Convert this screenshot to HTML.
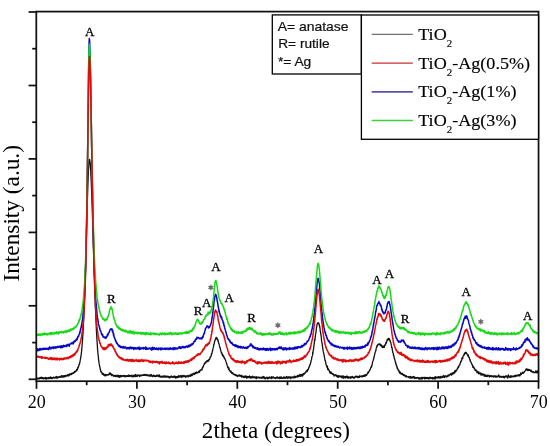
<!DOCTYPE html>
<html><head><meta charset="utf-8"><style>
html,body{margin:0;padding:0;background:#fff;}
svg{display:block;}
text{font-family:"Liberation Serif","Times New Roman",serif;}
.sans{font-family:"Liberation Sans",Arial,sans-serif;}
</style></head><body>
<svg width="550" height="446" viewBox="0 0 550 446">
<rect width="550" height="446" fill="#fff"/>
<polyline points="36.5,378.6 36.7,378.7 36.9,378.4 37.1,378.1 37.3,378.3 37.5,378.0 37.7,378.6 37.9,379.2 38.1,378.3 38.3,378.2 38.5,378.7 38.7,378.7 38.9,378.5 39.1,378.0 39.3,378.5 39.5,378.8 39.7,377.8 39.9,378.2 40.1,377.5 40.3,377.8 40.5,377.5 40.7,378.3 40.9,377.8 41.1,378.5 41.3,378.5 41.5,378.3 41.7,377.1 41.9,378.1 42.1,378.3 42.3,378.4 42.5,377.6 42.7,378.1 42.9,377.8 43.1,377.9 43.3,378.8 43.5,377.9 43.7,378.3 43.9,378.7 44.1,378.0 44.3,378.2 44.5,378.3 44.7,378.3 44.9,377.6 45.1,378.3 45.3,378.9 45.5,377.4 45.7,378.6 45.9,378.3 46.1,377.9 46.3,379.2 46.5,378.5 46.7,377.6 46.9,378.2 47.1,378.4 47.3,378.0 47.5,378.5 47.7,378.1 47.9,378.4 48.1,378.8 48.3,377.7 48.5,378.2 48.7,377.8 48.9,378.1 49.1,377.4 49.3,377.7 49.5,377.9 49.7,378.4 49.9,378.6 50.1,377.3 50.3,377.6 50.5,378.3 50.7,376.9 50.9,377.7 51.1,377.8 51.3,378.5 51.5,378.2 51.7,377.7 51.9,377.6 52.1,377.7 52.3,378.6 52.5,377.6 52.7,377.6 52.9,377.9 53.1,377.7 53.3,377.6 53.5,377.1 53.7,377.7 53.9,377.4 54.1,378.2 54.3,378.0 54.5,377.6 54.7,377.9 54.9,377.4 55.1,378.1 55.3,377.5 55.5,377.8 55.7,376.8 55.9,377.6 56.1,376.6 56.3,376.4 56.5,377.3 56.7,376.9 56.9,377.5 57.1,378.5 57.3,376.9 57.5,377.0 57.7,377.4 57.9,377.5 58.1,377.1 58.3,377.1 58.5,377.5 58.7,377.4 58.9,376.6 59.1,377.1 59.3,377.1 59.5,376.5 59.7,377.2 59.9,376.6 60.1,377.5 60.3,377.1 60.5,377.0 60.7,376.6 60.9,376.8 61.1,375.8 61.3,376.2 61.5,377.0 61.7,375.7 61.9,377.1 62.1,375.8 62.3,377.0 62.5,376.2 62.7,377.0 62.9,376.6 63.1,375.7 63.3,377.1 63.5,377.1 63.7,376.4 63.9,376.2 64.1,376.2 64.3,375.8 64.5,376.8 64.7,375.9 64.9,376.1 65.1,375.7 65.3,375.7 65.5,375.4 65.7,376.6 65.9,375.8 66.1,376.3 66.3,375.8 66.5,375.4 66.7,375.5 66.9,375.4 67.1,375.6 67.3,375.3 67.5,375.3 67.7,374.7 67.9,374.9 68.1,376.1 68.3,374.9 68.5,374.6 68.7,375.3 68.9,375.7 69.1,374.2 69.3,374.8 69.5,374.5 69.7,373.8 69.9,375.0 70.1,374.6 70.3,374.5 70.5,374.0 70.7,374.5 70.9,374.0 71.1,374.1 71.3,373.5 71.5,373.3 71.7,374.5 71.9,373.5 72.1,373.8 72.3,373.5 72.5,373.2 72.7,373.0 72.9,373.5 73.1,372.9 73.3,372.9 73.5,372.8 73.7,373.3 73.9,372.9 74.1,372.6 74.3,371.9 74.5,371.4 74.7,372.4 74.9,372.2 75.1,371.5 75.3,371.7 75.5,371.6 75.7,371.4 75.9,371.3 76.1,370.4 76.3,371.1 76.5,369.5 76.7,370.3 76.9,369.9 77.1,369.8 77.3,370.0 77.5,369.5 77.7,367.8 77.9,367.2 78.1,368.1 78.3,366.7 78.5,366.8 78.7,366.7 78.9,364.9 79.1,364.1 79.3,364.7 79.5,363.9 79.7,363.0 79.9,362.3 80.1,361.0 80.3,359.6 80.5,359.2 80.7,357.6 80.9,356.0 81.1,355.6 81.3,353.7 81.5,352.2 81.7,349.6 81.9,347.7 82.1,345.2 82.3,342.8 82.5,340.6 82.7,337.2 82.9,334.6 83.1,331.1 83.3,328.3 83.5,322.6 83.7,319.5 83.9,314.5 84.1,309.7 84.3,303.9 84.5,299.0 84.7,294.0 84.9,287.7 85.1,281.6 85.3,274.9 85.5,269.0 85.7,261.6 85.9,253.5 86.1,247.1 86.3,239.1 86.5,231.2 86.7,225.2 86.9,218.8 87.1,211.0 87.3,203.3 87.5,196.7 87.7,191.2 87.9,184.7 88.1,179.0 88.3,173.9 88.5,169.6 88.7,166.3 88.9,163.3 89.1,161.1 89.3,159.3 89.5,159.8 89.7,159.6 89.9,161.5 90.1,161.9 90.3,164.6 90.5,167.4 90.7,170.0 90.9,175.2 91.1,179.3 91.3,182.9 91.5,188.5 91.7,193.7 91.9,197.8 92.1,205.1 92.3,211.1 92.5,217.4 92.7,223.3 92.9,230.2 93.1,236.8 93.3,244.1 93.5,250.2 93.7,256.6 93.9,263.9 94.1,269.2 94.3,275.5 94.5,280.9 94.7,288.5 94.9,294.0 95.1,299.5 95.3,304.7 95.5,309.5 95.7,314.5 95.9,318.9 96.1,323.3 96.3,327.6 96.5,332.3 96.7,335.5 96.9,338.6 97.1,341.6 97.3,344.6 97.5,348.5 97.7,350.5 97.9,352.7 98.1,354.6 98.3,356.3 98.5,358.6 98.7,360.8 98.9,361.7 99.1,363.2 99.3,364.4 99.5,365.7 99.7,365.9 99.9,367.5 100.1,368.0 100.3,369.6 100.5,369.5 100.7,370.8 100.9,371.8 101.1,371.3 101.3,371.6 101.5,372.4 101.7,372.6 101.9,372.4 102.1,373.4 102.3,374.4 102.5,373.5 102.7,373.7 102.9,373.5 103.1,374.3 103.3,373.6 103.5,373.8 103.7,375.1 103.9,374.1 104.1,375.2 104.3,375.5 104.5,374.9 104.7,375.2 104.9,375.9 105.1,374.9 105.3,374.7 105.5,374.4 105.7,375.1 105.9,375.8 106.1,375.6 106.3,374.6 106.5,374.6 106.7,374.8 106.9,375.1 107.1,374.8 107.3,375.0 107.5,375.0 107.7,374.6 107.9,374.6 108.1,374.6 108.3,374.4 108.5,374.6 108.7,375.1 108.9,374.4 109.1,374.0 109.3,373.1 109.5,374.1 109.7,372.9 109.9,373.1 110.1,374.3 110.3,374.2 110.5,373.9 110.7,373.2 110.9,374.0 111.1,373.9 111.3,374.7 111.5,375.7 111.7,374.8 111.9,374.5 112.1,374.4 112.3,375.1 112.5,375.2 112.7,374.8 112.9,375.5 113.1,375.0 113.3,376.2 113.5,376.2 113.7,376.3 113.9,375.6 114.1,376.1 114.3,375.8 114.5,375.8 114.7,375.8 114.9,375.3 115.1,375.3 115.3,376.4 115.5,376.0 115.7,376.2 115.9,376.6 116.1,375.2 116.3,375.7 116.5,376.2 116.7,376.3 116.9,375.9 117.1,376.6 117.3,376.2 117.5,375.5 117.7,375.7 117.9,376.5 118.1,376.4 118.3,375.2 118.5,376.8 118.7,376.5 118.9,376.8 119.1,376.0 119.3,376.0 119.5,375.6 119.7,377.4 119.9,376.1 120.1,377.0 120.3,375.9 120.5,376.3 120.7,375.3 120.9,376.0 121.1,376.7 121.3,375.6 121.5,376.7 121.7,376.3 121.9,375.7 122.1,375.9 122.3,375.9 122.5,376.2 122.7,375.9 122.9,375.8 123.1,376.0 123.3,375.7 123.5,375.5 123.7,376.1 123.9,376.6 124.1,375.4 124.3,376.2 124.5,375.8 124.7,375.7 124.9,376.6 125.1,375.9 125.3,376.9 125.5,375.8 125.7,376.3 125.9,376.0 126.1,375.8 126.3,376.4 126.5,376.1 126.7,376.4 126.9,376.1 127.1,375.6 127.3,376.1 127.5,376.1 127.7,376.6 127.9,375.6 128.1,376.1 128.3,375.2 128.5,376.4 128.7,375.5 128.9,375.2 129.1,376.0 129.3,376.6 129.5,375.3 129.7,375.5 129.9,375.7 130.1,375.5 130.3,376.2 130.5,375.6 130.7,375.7 130.9,376.3 131.1,375.7 131.3,376.2 131.5,375.5 131.7,375.4 131.9,375.1 132.1,376.9 132.3,375.8 132.5,376.1 132.7,376.0 132.9,376.1 133.1,376.0 133.3,376.9 133.5,375.5 133.7,375.2 133.9,375.5 134.1,375.3 134.3,376.3 134.5,376.4 134.7,375.5 134.9,375.2 135.1,375.7 135.3,376.6 135.5,374.5 135.7,376.1 135.9,375.3 136.1,376.4 136.3,375.3 136.5,375.7 136.7,375.1 136.9,375.3 137.1,376.5 137.3,376.2 137.5,375.6 137.7,375.3 137.9,374.8 138.1,375.5 138.3,375.7 138.5,375.7 138.7,375.6 138.9,375.1 139.1,375.6 139.3,375.6 139.5,376.3 139.7,376.5 139.9,375.5 140.1,375.2 140.3,375.5 140.5,375.3 140.7,375.2 140.9,375.5 141.1,375.0 141.3,375.8 141.5,375.4 141.7,375.6 141.9,375.4 142.1,375.1 142.3,375.0 142.5,375.3 142.7,375.1 142.9,375.5 143.1,375.4 143.3,374.7 143.5,375.4 143.7,374.7 143.9,375.0 144.1,375.2 144.3,374.3 144.5,375.3 144.7,375.3 144.9,375.2 145.1,375.0 145.3,375.1 145.5,374.8 145.7,375.2 145.9,375.0 146.1,375.4 146.3,374.7 146.5,375.5 146.7,375.4 146.9,375.3 147.1,375.2 147.3,375.7 147.5,374.6 147.7,375.7 147.9,375.6 148.1,375.6 148.3,375.7 148.5,375.2 148.7,375.4 148.9,375.8 149.1,375.8 149.3,375.7 149.5,374.8 149.7,375.8 149.9,376.2 150.1,376.1 150.3,375.7 150.5,374.9 150.7,376.1 150.9,375.6 151.1,374.4 151.3,375.9 151.5,375.0 151.7,375.1 151.9,375.4 152.1,376.4 152.3,375.6 152.5,375.9 152.7,376.7 152.9,376.6 153.1,375.8 153.3,375.7 153.5,375.2 153.7,375.5 153.9,376.1 154.1,376.1 154.3,376.0 154.5,376.4 154.7,375.5 154.9,375.9 155.1,376.3 155.3,376.3 155.5,376.5 155.7,376.2 155.9,375.9 156.1,376.2 156.3,375.5 156.5,375.2 156.7,376.4 156.9,376.1 157.1,376.2 157.3,375.3 157.5,375.9 157.7,375.8 157.9,375.7 158.1,375.0 158.3,376.0 158.5,376.6 158.7,376.4 158.9,375.9 159.1,376.2 159.3,376.6 159.5,374.9 159.7,376.2 159.9,376.5 160.1,376.6 160.3,377.2 160.5,376.9 160.7,376.5 160.9,376.5 161.1,376.7 161.3,376.1 161.5,376.4 161.7,376.8 161.9,377.4 162.1,376.3 162.3,376.4 162.5,376.5 162.7,377.1 162.9,376.5 163.1,377.2 163.3,376.0 163.5,376.4 163.7,376.4 163.9,376.9 164.1,377.1 164.3,375.8 164.5,376.1 164.7,376.7 164.9,376.3 165.1,375.8 165.3,377.1 165.5,376.9 165.7,376.9 165.9,376.4 166.1,377.2 166.3,376.6 166.5,377.2 166.7,376.2 166.9,376.3 167.1,376.8 167.3,376.4 167.5,377.1 167.7,376.9 167.9,376.3 168.1,376.8 168.3,376.6 168.5,377.3 168.7,376.5 168.9,376.6 169.1,377.4 169.3,378.0 169.5,377.8 169.7,376.9 169.9,377.0 170.1,377.6 170.3,376.8 170.5,376.4 170.7,376.9 170.9,377.1 171.1,376.4 171.3,376.0 171.5,376.1 171.7,377.2 171.9,376.5 172.1,376.8 172.3,377.0 172.5,377.2 172.7,376.7 172.9,377.1 173.1,376.4 173.3,376.7 173.5,376.3 173.7,377.4 173.9,376.8 174.1,376.5 174.3,376.6 174.5,376.7 174.7,377.2 174.9,376.0 175.1,376.3 175.3,376.6 175.5,378.1 175.7,377.3 175.9,376.7 176.1,377.1 176.3,377.8 176.5,376.7 176.7,376.6 176.9,377.4 177.1,377.0 177.3,377.1 177.5,376.5 177.7,377.7 177.9,377.6 178.1,377.0 178.3,377.1 178.5,375.7 178.7,377.0 178.9,376.6 179.1,376.9 179.3,377.0 179.5,376.5 179.7,375.8 179.9,376.8 180.1,376.3 180.3,376.5 180.5,376.3 180.7,376.5 180.9,375.5 181.1,377.2 181.3,376.7 181.5,377.1 181.7,377.6 181.9,376.6 182.1,375.6 182.3,376.1 182.5,375.9 182.7,376.3 182.9,376.5 183.1,375.5 183.3,376.6 183.5,375.7 183.7,376.6 183.9,376.4 184.1,376.3 184.3,376.4 184.5,376.1 184.7,376.1 184.9,375.5 185.1,376.3 185.3,377.2 185.5,377.3 185.7,376.9 185.9,376.6 186.1,375.9 186.3,376.9 186.5,376.2 186.7,376.1 186.9,376.0 187.1,376.1 187.3,375.9 187.5,376.0 187.7,375.5 187.9,375.8 188.1,377.1 188.3,375.9 188.5,375.8 188.7,376.1 188.9,376.2 189.1,375.2 189.3,375.6 189.5,376.1 189.7,375.8 189.9,375.6 190.1,376.3 190.3,375.1 190.5,375.4 190.7,375.1 190.9,376.0 191.1,374.2 191.3,374.8 191.5,374.8 191.7,375.4 191.9,375.2 192.1,375.6 192.3,374.0 192.5,375.1 192.7,374.5 192.9,374.2 193.1,374.7 193.3,373.9 193.5,373.2 193.7,374.0 193.9,373.3 194.1,373.7 194.3,374.1 194.5,373.9 194.7,374.5 194.9,373.5 195.1,372.7 195.3,373.0 195.5,372.8 195.7,372.6 195.9,373.3 196.1,372.7 196.3,371.9 196.5,373.2 196.7,372.7 196.9,372.8 197.1,372.6 197.3,372.8 197.5,372.5 197.7,373.0 197.9,372.5 198.1,372.4 198.3,372.3 198.5,371.3 198.7,371.9 198.9,371.7 199.1,371.8 199.3,370.9 199.5,372.3 199.7,371.4 199.9,370.6 200.1,370.2 200.3,370.7 200.5,370.6 200.7,370.1 200.9,370.2 201.1,369.6 201.3,370.0 201.5,369.1 201.7,369.1 201.9,369.3 202.1,369.8 202.3,367.7 202.5,367.6 202.7,367.1 202.9,367.6 203.1,366.2 203.3,366.2 203.5,366.1 203.7,365.2 203.9,364.9 204.1,364.7 204.3,363.5 204.5,363.5 204.7,363.7 204.9,363.6 205.1,363.2 205.3,362.1 205.5,362.4 205.7,362.8 205.9,362.5 206.1,361.9 206.3,361.3 206.5,361.9 206.7,361.2 206.9,360.7 207.1,360.8 207.3,361.7 207.5,361.0 207.7,361.3 207.9,360.4 208.1,361.0 208.3,360.0 208.5,360.1 208.7,361.2 208.9,360.1 209.1,359.3 209.3,359.2 209.5,359.2 209.7,359.3 209.9,358.1 210.1,357.1 210.3,357.4 210.5,357.1 210.7,356.6 210.9,356.7 211.1,355.7 211.3,355.3 211.5,353.7 211.7,354.0 211.9,353.9 212.1,352.5 212.3,351.5 212.5,350.7 212.7,350.7 212.9,348.5 213.1,348.0 213.3,347.4 213.5,346.7 213.7,345.3 213.9,344.8 214.1,343.6 214.3,343.0 214.5,342.1 214.7,340.8 214.9,340.7 215.1,340.5 215.3,339.0 215.5,338.9 215.7,338.9 215.9,337.7 216.1,338.1 216.3,337.3 216.5,338.4 216.7,339.0 216.9,339.0 217.1,338.1 217.3,338.9 217.5,339.1 217.7,339.5 217.9,340.8 218.1,340.0 218.3,341.8 218.5,342.0 218.7,343.5 218.9,343.6 219.1,344.0 219.3,345.2 219.5,346.2 219.7,346.7 219.9,347.6 220.1,347.9 220.3,347.8 220.5,350.0 220.7,350.6 220.9,350.9 221.1,351.5 221.3,352.6 221.5,352.4 221.7,352.7 221.9,353.4 222.1,354.6 222.3,353.7 222.5,355.3 222.7,354.8 222.9,354.9 223.1,356.4 223.3,356.0 223.5,355.7 223.7,356.5 223.9,357.4 224.1,357.9 224.3,357.4 224.5,358.2 224.7,358.8 224.9,358.5 225.1,359.5 225.3,359.8 225.5,360.0 225.7,360.6 225.9,361.4 226.1,362.0 226.3,362.3 226.5,362.9 226.7,364.2 226.9,364.4 227.1,365.2 227.3,365.9 227.5,366.2 227.7,367.5 227.9,366.4 228.1,367.7 228.3,367.6 228.5,369.1 228.7,369.5 228.9,368.0 229.1,368.9 229.3,370.1 229.5,370.5 229.7,370.7 229.9,370.6 230.1,371.2 230.3,371.6 230.5,371.4 230.7,372.2 230.9,370.8 231.1,372.5 231.3,371.9 231.5,373.0 231.7,372.6 231.9,372.5 232.1,373.3 232.3,372.8 232.5,372.9 232.7,372.7 232.9,373.6 233.1,374.0 233.3,374.4 233.5,373.9 233.7,374.6 233.9,374.2 234.1,374.3 234.3,374.7 234.5,375.0 234.7,374.4 234.9,374.6 235.1,374.7 235.3,374.9 235.5,374.5 235.7,375.5 235.9,374.9 236.1,375.4 236.3,374.8 236.5,375.4 236.7,375.5 236.9,375.2 237.1,376.4 237.3,375.7 237.5,376.4 237.7,376.1 237.9,375.3 238.1,375.5 238.3,376.0 238.5,375.8 238.7,375.9 238.9,375.7 239.1,375.0 239.3,375.8 239.5,374.9 239.7,376.2 239.9,375.7 240.1,375.8 240.3,376.0 240.5,376.3 240.7,375.5 240.9,375.4 241.1,375.8 241.3,375.3 241.5,375.9 241.7,377.2 241.9,375.9 242.1,376.8 242.3,375.8 242.5,376.6 242.7,376.4 242.9,376.5 243.1,376.9 243.3,377.5 243.5,376.7 243.7,376.7 243.9,376.2 244.1,377.0 244.3,376.6 244.5,377.2 244.7,376.7 244.9,377.6 245.1,375.8 245.3,376.7 245.5,377.3 245.7,376.7 245.9,376.5 246.1,376.8 246.3,376.2 246.5,377.0 246.7,378.2 246.9,377.5 247.1,376.4 247.3,376.6 247.5,376.8 247.7,377.5 247.9,376.6 248.1,376.7 248.3,377.5 248.5,377.5 248.7,376.9 248.9,376.6 249.1,376.4 249.3,376.8 249.5,376.0 249.7,377.5 249.9,376.9 250.1,377.4 250.3,378.1 250.5,377.8 250.7,376.7 250.9,377.7 251.1,377.8 251.3,376.9 251.5,376.8 251.7,377.2 251.9,376.5 252.1,378.0 252.3,376.1 252.5,376.8 252.7,377.2 252.9,377.2 253.1,377.4 253.3,377.5 253.5,377.3 253.7,377.9 253.9,376.3 254.1,377.4 254.3,377.0 254.5,377.5 254.7,377.5 254.9,377.0 255.1,377.1 255.3,377.8 255.5,377.6 255.7,377.1 255.9,378.5 256.1,378.6 256.3,376.7 256.5,377.6 256.7,378.7 256.9,377.9 257.1,377.6 257.3,377.4 257.5,377.2 257.7,377.4 257.9,377.3 258.1,377.9 258.3,377.3 258.5,377.3 258.7,377.0 258.9,377.5 259.1,377.1 259.3,377.5 259.5,378.1 259.7,377.8 259.9,377.8 260.1,377.8 260.3,377.6 260.5,377.5 260.7,377.5 260.9,378.0 261.1,377.1 261.3,378.3 261.5,377.6 261.7,377.3 261.9,377.4 262.1,377.3 262.3,377.7 262.5,377.3 262.7,378.2 262.9,377.3 263.1,376.5 263.3,377.3 263.5,376.7 263.7,377.7 263.9,378.2 264.1,378.0 264.3,377.0 264.5,377.3 264.7,378.6 264.9,377.9 265.1,377.7 265.3,378.2 265.5,378.9 265.7,378.4 265.9,377.8 266.1,377.9 266.3,378.0 266.5,377.4 266.7,377.2 266.9,377.8 267.1,377.3 267.3,377.7 267.5,377.8 267.7,378.9 267.9,377.3 268.1,377.7 268.3,377.7 268.5,378.0 268.7,378.3 268.9,377.5 269.1,377.4 269.3,377.0 269.5,377.3 269.7,378.0 269.9,377.8 270.1,377.3 270.3,377.6 270.5,377.8 270.7,378.0 270.9,377.5 271.1,377.7 271.3,376.9 271.5,377.2 271.7,378.6 271.9,376.7 272.1,377.6 272.3,377.9 272.5,377.6 272.7,377.4 272.9,377.8 273.1,377.8 273.3,377.8 273.5,376.9 273.7,377.7 273.9,377.4 274.1,377.5 274.3,377.9 274.5,378.1 274.7,378.2 274.9,377.6 275.1,378.3 275.3,378.4 275.5,378.4 275.7,378.5 275.9,377.7 276.1,377.7 276.3,378.2 276.5,377.1 276.7,377.9 276.9,377.5 277.1,377.6 277.3,376.9 277.5,377.3 277.7,377.8 277.9,378.2 278.1,378.3 278.3,377.7 278.5,377.7 278.7,377.4 278.9,378.0 279.1,377.6 279.3,378.1 279.5,378.6 279.7,377.7 279.9,377.0 280.1,377.3 280.3,377.0 280.5,377.1 280.7,378.4 280.9,377.9 281.1,377.0 281.3,378.1 281.5,378.4 281.7,377.5 281.9,377.4 282.1,377.5 282.3,377.8 282.5,378.0 282.7,378.3 282.9,378.3 283.1,378.3 283.3,378.4 283.5,378.0 283.7,376.9 283.9,377.6 284.1,377.8 284.3,377.5 284.5,378.1 284.7,377.5 284.9,377.2 285.1,378.3 285.3,377.9 285.5,377.7 285.7,378.1 285.9,378.1 286.1,377.7 286.3,376.3 286.5,377.2 286.7,377.3 286.9,377.0 287.1,377.6 287.3,378.1 287.5,377.3 287.7,376.9 287.9,378.5 288.1,377.3 288.3,376.8 288.5,377.6 288.7,377.7 288.9,377.1 289.1,377.8 289.3,377.2 289.5,376.9 289.7,377.5 289.9,377.7 290.1,377.0 290.3,377.5 290.5,377.3 290.7,378.7 290.9,376.9 291.1,377.9 291.3,377.2 291.5,377.2 291.7,377.6 291.9,377.6 292.1,377.8 292.3,377.3 292.5,376.8 292.7,376.8 292.9,377.3 293.1,377.3 293.3,377.7 293.5,377.2 293.7,377.5 293.9,377.7 294.1,377.0 294.3,376.1 294.5,376.3 294.7,376.1 294.9,377.6 295.1,376.3 295.3,377.3 295.5,377.0 295.7,377.5 295.9,377.1 296.1,376.5 296.3,376.5 296.5,376.6 296.7,376.6 296.9,376.2 297.1,376.4 297.3,377.2 297.5,375.5 297.7,376.4 297.9,375.8 298.1,376.3 298.3,376.6 298.5,376.1 298.7,376.4 298.9,375.2 299.1,376.5 299.3,375.6 299.5,376.1 299.7,375.9 299.9,374.4 300.1,375.3 300.3,375.7 300.5,376.3 300.7,375.6 300.9,375.5 301.1,374.6 301.3,375.9 301.5,376.0 301.7,375.1 301.9,374.9 302.1,374.1 302.3,375.2 302.5,376.1 302.7,375.0 302.9,375.1 303.1,374.7 303.3,373.8 303.5,374.9 303.7,373.4 303.9,373.8 304.1,374.0 304.3,374.1 304.5,373.7 304.7,373.6 304.9,372.9 305.1,372.4 305.3,372.9 305.5,372.4 305.7,371.9 305.9,371.7 306.1,371.9 306.3,371.0 306.5,371.0 306.7,370.7 306.9,371.3 307.1,371.2 307.3,371.7 307.5,369.6 307.7,369.7 307.9,370.2 308.1,369.3 308.3,368.9 308.5,369.5 308.7,368.0 308.9,367.2 309.1,366.7 309.3,367.0 309.5,366.5 309.7,365.1 309.9,364.7 310.1,364.9 310.3,364.3 310.5,363.0 310.7,362.9 310.9,362.2 311.1,360.2 311.3,360.2 311.5,359.7 311.7,358.3 311.9,356.6 312.1,356.5 312.3,356.0 312.5,355.4 312.7,352.4 312.9,353.7 313.1,350.6 313.3,350.4 313.5,349.3 313.7,347.9 313.9,346.2 314.1,344.1 314.3,343.6 314.5,341.6 314.7,339.2 314.9,340.4 315.1,337.9 315.3,337.0 315.5,334.2 315.7,334.0 315.9,332.7 316.1,331.3 316.3,329.3 316.5,327.5 316.7,326.9 316.9,324.8 317.1,324.2 317.3,324.3 317.5,323.2 317.7,323.1 317.9,322.8 318.1,323.7 318.3,323.4 318.5,322.9 318.7,323.9 318.9,323.4 319.1,324.2 319.3,325.7 319.5,325.5 319.7,327.0 319.9,327.6 320.1,329.5 320.3,331.6 320.5,331.7 320.7,333.6 320.9,334.5 321.1,335.8 321.3,337.2 321.5,340.0 321.7,341.9 321.9,342.4 322.1,343.2 322.3,345.3 322.5,346.1 322.7,348.0 322.9,349.1 323.1,350.3 323.3,351.7 323.5,352.3 323.7,353.5 323.9,353.9 324.1,355.6 324.3,356.1 324.5,357.7 324.7,358.2 324.9,359.6 325.1,360.7 325.3,360.5 325.5,361.6 325.7,362.3 325.9,363.8 326.1,364.9 326.3,365.1 326.5,365.1 326.7,366.6 326.9,365.6 327.1,367.7 327.3,367.1 327.5,366.4 327.7,369.6 327.9,369.5 328.1,368.5 328.3,369.5 328.5,369.7 328.7,370.1 328.9,369.7 329.1,370.4 329.3,371.2 329.5,371.3 329.7,372.1 329.9,371.8 330.1,373.1 330.3,371.8 330.5,372.5 330.7,371.6 330.9,372.1 331.1,373.6 331.3,372.6 331.5,373.5 331.7,373.4 331.9,373.0 332.1,373.5 332.3,373.5 332.5,373.7 332.7,374.4 332.9,374.5 333.1,374.0 333.3,373.9 333.5,374.6 333.7,374.5 333.9,375.2 334.1,376.1 334.3,375.3 334.5,374.9 334.7,374.9 334.9,374.7 335.1,374.7 335.3,374.7 335.5,375.1 335.7,375.2 335.9,375.8 336.1,375.3 336.3,375.5 336.5,375.0 336.7,376.5 336.9,376.0 337.1,376.7 337.3,376.3 337.5,376.7 337.7,375.8 337.9,376.4 338.1,377.4 338.3,375.5 338.5,376.7 338.7,377.0 338.9,376.4 339.1,376.6 339.3,376.9 339.5,376.0 339.7,376.6 339.9,376.0 340.1,376.1 340.3,376.2 340.5,376.4 340.7,376.6 340.9,376.8 341.1,375.9 341.3,377.6 341.5,377.3 341.7,377.1 341.9,376.5 342.1,376.7 342.3,377.0 342.5,377.0 342.7,376.0 342.9,377.2 343.1,378.4 343.3,375.9 343.5,377.4 343.7,377.1 343.9,376.9 344.1,377.7 344.3,376.4 344.5,377.1 344.7,377.8 344.9,376.9 345.1,376.8 345.3,377.1 345.5,376.8 345.7,377.9 345.9,376.6 346.1,377.6 346.3,376.5 346.5,377.5 346.7,377.1 346.9,375.8 347.1,377.2 347.3,376.6 347.5,377.0 347.7,378.0 347.9,376.6 348.1,376.7 348.3,378.0 348.5,377.3 348.7,378.0 348.9,377.4 349.1,376.8 349.3,377.2 349.5,377.9 349.7,377.7 349.9,377.3 350.1,377.3 350.3,377.2 350.5,377.0 350.7,378.3 350.9,377.3 351.1,376.7 351.3,377.0 351.5,377.6 351.7,377.6 351.9,377.2 352.1,376.9 352.3,377.3 352.5,376.4 352.7,376.6 352.9,377.7 353.1,377.0 353.3,377.4 353.5,377.9 353.7,377.6 353.9,377.2 354.1,378.3 354.3,377.6 354.5,377.0 354.7,377.6 354.9,377.4 355.1,376.7 355.3,377.2 355.5,377.1 355.7,376.1 355.9,377.0 356.1,377.0 356.3,376.9 356.5,376.2 356.7,376.9 356.9,377.0 357.1,377.1 357.3,376.4 357.5,377.3 357.7,376.4 357.9,376.8 358.1,377.6 358.3,376.6 358.5,376.6 358.7,377.4 358.9,376.7 359.1,376.7 359.3,376.9 359.5,377.3 359.7,375.6 359.9,376.3 360.1,376.2 360.3,376.1 360.5,376.2 360.7,376.1 360.9,376.7 361.1,376.1 361.3,376.5 361.5,376.6 361.7,376.0 361.9,376.4 362.1,377.1 362.3,376.4 362.5,375.9 362.7,376.1 362.9,375.6 363.1,376.2 363.3,376.4 363.5,375.5 363.7,375.7 363.9,376.3 364.1,375.4 364.3,375.7 364.5,375.0 364.7,375.0 364.9,375.1 365.1,376.3 365.3,374.9 365.5,374.8 365.7,374.6 365.9,374.7 366.1,375.0 366.3,374.6 366.5,375.4 366.7,374.4 366.9,374.8 367.1,374.0 367.3,374.0 367.5,372.8 367.7,373.3 367.9,373.1 368.1,372.8 368.3,371.6 368.5,372.8 368.7,371.9 368.9,371.6 369.1,371.4 369.3,371.1 369.5,371.0 369.7,369.8 369.9,369.6 370.1,369.8 370.3,369.3 370.5,368.6 370.7,368.1 370.9,367.4 371.1,367.3 371.3,367.4 371.5,365.7 371.7,366.5 371.9,365.5 372.1,364.3 372.3,364.2 372.5,362.4 372.7,361.6 372.9,361.1 373.1,360.9 373.3,360.2 373.5,359.3 373.7,358.9 373.9,357.0 374.1,357.5 374.3,355.7 374.5,355.3 374.7,354.6 374.9,353.4 375.1,352.5 375.3,351.8 375.5,351.5 375.7,351.1 375.9,350.3 376.1,348.8 376.3,348.2 376.5,347.4 376.7,347.5 376.9,345.6 377.1,346.7 377.3,345.4 377.5,344.8 377.7,345.0 377.9,345.0 378.1,344.4 378.3,344.6 378.5,344.0 378.7,344.4 378.9,344.4 379.1,343.8 379.3,344.6 379.5,344.1 379.7,344.2 379.9,343.9 380.1,344.5 380.3,345.2 380.5,344.4 380.7,345.6 380.9,345.7 381.1,346.0 381.3,344.9 381.5,346.2 381.7,346.8 381.9,346.3 382.1,346.9 382.3,345.8 382.5,347.4 382.7,346.8 382.9,347.6 383.1,346.2 383.3,347.4 383.5,346.9 383.7,347.3 383.9,346.3 384.1,346.2 384.3,347.4 384.5,345.6 384.7,345.4 384.9,345.2 385.1,344.5 385.3,345.2 385.5,345.0 385.7,343.4 385.9,342.4 386.1,343.4 386.3,342.9 386.5,342.3 386.7,342.0 386.9,340.5 387.1,340.4 387.3,339.4 387.5,339.0 387.7,339.9 387.9,338.8 388.1,340.0 388.3,338.8 388.5,338.3 388.7,339.0 388.9,339.6 389.1,339.1 389.3,338.5 389.5,339.6 389.7,340.4 389.9,339.9 390.1,340.3 390.3,341.8 390.5,342.0 390.7,342.1 390.9,343.2 391.1,343.8 391.3,345.2 391.5,345.9 391.7,347.3 391.9,348.0 392.1,347.8 392.3,349.7 392.5,350.9 392.7,351.6 392.9,352.8 393.1,352.9 393.3,353.6 393.5,355.4 393.7,355.3 393.9,355.6 394.1,358.0 394.3,358.0 394.5,359.0 394.7,359.2 394.9,360.0 395.1,360.8 395.3,361.9 395.5,362.9 395.7,362.2 395.9,364.4 396.1,364.0 396.3,364.7 396.5,366.1 396.7,366.2 396.9,366.0 397.1,368.2 397.3,367.3 397.5,368.3 397.7,368.7 397.9,369.7 398.1,369.2 398.3,370.3 398.5,369.8 398.7,371.0 398.9,370.4 399.1,370.9 399.3,372.3 399.5,371.8 399.7,372.0 399.9,373.3 400.1,372.6 400.3,372.2 400.5,373.2 400.7,372.5 400.9,373.8 401.1,374.0 401.3,373.3 401.5,373.5 401.7,374.0 401.9,374.1 402.1,373.7 402.3,374.7 402.5,373.5 402.7,374.4 402.9,374.5 403.1,374.7 403.3,375.1 403.5,374.5 403.7,375.5 403.9,375.2 404.1,375.0 404.3,374.8 404.5,374.9 404.7,375.8 404.9,375.2 405.1,375.8 405.3,376.4 405.5,376.4 405.7,376.8 405.9,375.9 406.1,375.6 406.3,376.7 406.5,376.4 406.7,376.9 406.9,376.4 407.1,377.0 407.3,376.9 407.5,376.9 407.7,376.8 407.9,376.8 408.1,376.8 408.3,376.8 408.5,377.2 408.7,376.5 408.9,377.7 409.1,376.8 409.3,377.4 409.5,376.9 409.7,376.9 409.9,378.0 410.1,376.9 410.3,376.4 410.5,376.8 410.7,377.0 410.9,378.2 411.1,377.3 411.3,377.7 411.5,376.8 411.7,377.5 411.9,377.6 412.1,378.2 412.3,377.0 412.5,377.7 412.7,377.6 412.9,376.9 413.1,377.5 413.3,377.4 413.5,376.3 413.7,377.8 413.9,377.8 414.1,377.3 414.3,376.9 414.5,378.3 414.7,377.8 414.9,378.2 415.1,378.4 415.3,377.4 415.5,378.1 415.7,377.6 415.9,377.7 416.1,377.7 416.3,377.8 416.5,378.3 416.7,377.8 416.9,377.7 417.1,377.7 417.3,378.0 417.5,377.4 417.7,377.6 417.9,377.8 418.1,377.6 418.3,377.8 418.5,377.6 418.7,378.9 418.9,378.6 419.1,378.2 419.3,377.9 419.5,379.0 419.7,378.1 419.9,377.9 420.1,378.1 420.3,378.1 420.5,378.7 420.7,378.0 420.9,379.1 421.1,377.6 421.3,378.4 421.5,377.5 421.7,378.9 421.9,377.9 422.1,378.0 422.3,378.5 422.5,378.7 422.7,377.5 422.9,377.9 423.1,377.4 423.3,378.1 423.5,378.0 423.7,377.9 423.9,377.7 424.1,377.9 424.3,377.7 424.5,378.4 424.7,378.9 424.9,377.1 425.1,378.0 425.3,377.9 425.5,378.3 425.7,377.6 425.9,378.0 426.1,377.6 426.3,378.5 426.5,378.2 426.7,378.0 426.9,378.3 427.1,378.0 427.3,377.3 427.5,378.4 427.7,378.2 427.9,378.0 428.1,378.6 428.3,378.7 428.5,377.6 428.7,377.7 428.9,378.9 429.1,378.8 429.3,377.7 429.5,377.5 429.7,377.8 429.9,377.8 430.1,377.3 430.3,378.1 430.5,377.4 430.7,377.4 430.9,378.5 431.1,377.7 431.3,378.0 431.5,378.3 431.7,378.4 431.9,377.8 432.1,378.0 432.3,377.6 432.5,378.8 432.7,378.3 432.9,377.4 433.1,377.9 433.3,378.3 433.5,378.1 433.7,378.8 433.9,378.6 434.1,377.6 434.3,377.8 434.5,377.2 434.7,377.9 434.9,377.9 435.1,379.1 435.3,377.8 435.5,376.7 435.7,377.4 435.9,377.8 436.1,377.1 436.3,377.2 436.5,377.5 436.7,377.8 436.9,377.5 437.1,377.2 437.3,378.0 437.5,377.3 437.7,377.3 437.9,376.8 438.1,377.1 438.3,377.8 438.5,376.7 438.7,377.4 438.9,377.8 439.1,377.2 439.3,377.5 439.5,376.8 439.7,378.0 439.9,377.8 440.1,377.4 440.3,376.4 440.5,376.7 440.7,377.7 440.9,378.0 441.1,377.3 441.3,377.7 441.5,376.8 441.7,377.0 441.9,377.0 442.1,377.2 442.3,376.2 442.5,377.4 442.7,377.5 442.9,376.3 443.1,376.1 443.3,377.0 443.5,376.4 443.7,375.5 443.9,377.1 444.1,376.7 444.3,376.3 444.5,377.6 444.7,376.6 444.9,376.1 445.1,376.5 445.3,375.8 445.5,375.9 445.7,376.5 445.9,375.9 446.1,375.9 446.3,377.0 446.5,376.5 446.7,376.4 446.9,376.2 447.1,376.1 447.3,376.6 447.5,375.8 447.7,376.6 447.9,375.2 448.1,375.5 448.3,374.8 448.5,375.3 448.7,375.6 448.9,376.0 449.1,374.9 449.3,375.2 449.5,374.9 449.7,374.6 449.9,374.3 450.1,374.8 450.3,373.9 450.5,374.7 450.7,374.5 450.9,374.1 451.1,373.8 451.3,373.5 451.5,375.1 451.7,373.3 451.9,374.7 452.1,374.1 452.3,373.5 452.5,373.0 452.7,373.9 452.9,374.1 453.1,372.7 453.3,372.8 453.5,373.4 453.7,372.8 453.9,373.5 454.1,372.1 454.3,372.5 454.5,371.4 454.7,372.9 454.9,371.3 455.1,370.3 455.3,371.2 455.5,371.0 455.7,371.8 455.9,370.4 456.1,370.4 456.3,370.4 456.5,370.7 456.7,369.6 456.9,369.9 457.1,369.3 457.3,368.6 457.5,368.5 457.7,368.2 457.9,367.4 458.1,368.1 458.3,366.5 458.5,367.4 458.7,367.0 458.9,366.1 459.1,365.4 459.3,365.2 459.5,365.2 459.7,364.9 459.9,364.2 460.1,364.1 460.3,362.9 460.5,362.9 460.7,361.5 460.9,362.2 461.1,361.4 461.3,360.6 461.5,360.9 461.7,360.2 461.9,357.9 462.1,358.8 462.3,357.6 462.5,358.3 462.7,358.6 462.9,356.6 463.1,356.4 463.3,355.8 463.5,355.7 463.7,355.4 463.9,355.3 464.1,353.8 464.3,354.8 464.5,353.2 464.7,353.6 464.9,353.8 465.1,353.4 465.3,352.4 465.5,352.5 465.7,352.5 465.9,352.7 466.1,353.4 466.3,352.3 466.5,353.3 466.7,353.5 466.9,353.7 467.1,354.0 467.3,354.8 467.5,354.6 467.7,355.1 467.9,355.4 468.1,356.4 468.3,355.0 468.5,357.0 468.7,356.7 468.9,357.2 469.1,357.3 469.3,357.4 469.5,358.6 469.7,359.0 469.9,360.0 470.1,359.6 470.3,361.5 470.5,361.4 470.7,361.6 470.9,361.9 471.1,362.3 471.3,362.6 471.5,363.3 471.7,364.0 471.9,364.3 472.1,364.1 472.3,365.1 472.5,365.1 472.7,366.0 472.9,367.3 473.1,367.0 473.3,366.9 473.5,366.5 473.7,366.9 473.9,367.1 474.1,368.6 474.3,368.2 474.5,368.8 474.7,368.8 474.9,369.4 475.1,370.3 475.3,369.5 475.5,369.9 475.7,369.9 475.9,370.9 476.1,370.2 476.3,370.3 476.5,370.4 476.7,370.6 476.9,371.7 477.1,372.9 477.3,371.3 477.5,372.4 477.7,372.2 477.9,371.7 478.1,372.2 478.3,372.4 478.5,372.3 478.7,373.8 478.9,372.0 479.1,373.2 479.3,373.3 479.5,373.0 479.7,373.4 479.9,373.9 480.1,373.7 480.3,373.9 480.5,374.1 480.7,372.9 480.9,374.7 481.1,375.2 481.3,374.6 481.5,374.7 481.7,373.6 481.9,374.3 482.1,374.0 482.3,374.2 482.5,375.1 482.7,374.2 482.9,374.6 483.1,373.8 483.3,374.8 483.5,374.9 483.7,374.6 483.9,374.6 484.1,376.0 484.3,374.5 484.5,374.6 484.7,374.8 484.9,375.9 485.1,376.4 485.3,375.5 485.5,375.0 485.7,375.2 485.9,376.0 486.1,375.1 486.3,376.3 486.5,376.3 486.7,375.7 486.9,376.0 487.1,376.1 487.3,376.5 487.5,375.2 487.7,376.4 487.9,375.6 488.1,375.5 488.3,375.9 488.5,375.8 488.7,375.4 488.9,375.2 489.1,375.5 489.3,376.7 489.5,377.0 489.7,376.4 489.9,376.7 490.1,375.9 490.3,376.1 490.5,376.3 490.7,375.6 490.9,375.7 491.1,376.3 491.3,376.1 491.5,375.7 491.7,376.5 491.9,376.2 492.1,376.8 492.3,376.3 492.5,376.2 492.7,376.4 492.9,376.3 493.1,376.0 493.3,376.2 493.5,376.8 493.7,376.7 493.9,377.1 494.1,375.6 494.3,376.3 494.5,376.3 494.7,376.6 494.9,376.3 495.1,376.2 495.3,376.9 495.5,376.6 495.7,375.9 495.9,377.2 496.1,377.0 496.3,376.3 496.5,377.0 496.7,376.2 496.9,377.1 497.1,376.5 497.3,376.2 497.5,376.4 497.7,376.2 497.9,376.7 498.1,376.7 498.3,376.6 498.5,376.3 498.7,374.8 498.9,376.7 499.1,375.7 499.3,376.8 499.5,377.2 499.7,376.8 499.9,376.5 500.1,376.6 500.3,376.6 500.5,376.4 500.7,376.4 500.9,376.2 501.1,377.3 501.3,376.7 501.5,377.2 501.7,376.6 501.9,376.7 502.1,376.6 502.3,376.9 502.5,377.1 502.7,376.8 502.9,376.4 503.1,376.3 503.3,377.5 503.5,376.6 503.7,376.5 503.9,377.4 504.1,377.2 504.3,377.0 504.5,376.5 504.7,377.9 504.9,376.9 505.1,377.0 505.3,376.6 505.5,376.0 505.7,376.0 505.9,376.9 506.1,376.9 506.3,376.5 506.5,376.1 506.7,375.9 506.9,376.5 507.1,375.9 507.3,377.1 507.5,377.2 507.7,378.1 507.9,377.1 508.1,376.3 508.3,376.2 508.5,374.9 508.7,376.3 508.9,376.5 509.1,377.1 509.3,376.9 509.5,376.9 509.7,376.7 509.9,376.9 510.1,377.3 510.3,376.0 510.5,376.3 510.7,375.8 510.9,377.3 511.1,377.2 511.3,376.9 511.5,375.9 511.7,376.6 511.9,376.3 512.1,376.5 512.3,376.3 512.5,376.7 512.7,376.2 512.9,376.8 513.1,376.5 513.3,376.2 513.5,376.3 513.7,376.1 513.9,376.7 514.1,376.1 514.3,376.4 514.5,376.0 514.7,375.5 514.9,376.6 515.1,375.6 515.3,376.5 515.5,376.3 515.7,375.2 515.9,375.6 516.1,375.7 516.3,375.5 516.5,375.3 516.7,376.2 516.9,375.7 517.1,376.0 517.3,375.5 517.5,375.8 517.7,375.2 517.9,375.6 518.1,375.8 518.3,375.5 518.5,375.1 518.7,374.7 518.9,375.3 519.1,375.3 519.3,374.9 519.5,374.6 519.7,375.1 519.9,376.0 520.1,374.5 520.3,374.7 520.5,374.6 520.7,373.0 520.9,374.3 521.1,373.7 521.3,374.6 521.5,373.7 521.7,373.3 521.9,373.4 522.1,373.4 522.3,372.9 522.5,373.0 522.7,372.2 522.9,372.6 523.1,372.9 523.3,373.4 523.5,372.5 523.7,372.2 523.9,372.4 524.1,372.2 524.3,372.3 524.5,371.9 524.7,371.1 524.9,371.1 525.1,370.9 525.3,370.8 525.5,370.6 525.7,370.0 525.9,369.2 526.1,369.8 526.3,369.0 526.5,369.9 526.7,369.8 526.9,368.9 527.1,370.1 527.3,370.1 527.5,369.7 527.7,370.5 527.9,370.6 528.1,369.1 528.3,370.3 528.5,370.0 528.7,370.1 528.9,370.4 529.1,369.7 529.3,369.8 529.5,369.8 529.7,370.0 529.9,370.4 530.1,369.8 530.3,370.1 530.5,371.0 530.7,370.8 530.9,371.2 531.1,370.1 531.3,370.8 531.5,371.0 531.7,371.4 531.9,371.2 532.1,372.0 532.3,371.6 532.5,371.7 532.7,371.8 532.9,372.2 533.1,371.6 533.3,372.5 533.5,372.2 533.7,372.1 533.9,372.1 534.1,372.3 534.3,372.6 534.5,372.6 534.7,372.3 534.9,372.5 535.1,372.2 535.3,372.7 535.5,372.1 535.7,371.0 535.9,372.7 536.1,372.1 536.3,371.4 536.5,371.9 536.7,371.5 536.9,372.9 537.1,372.1 537.3,371.0 537.5,372.1 537.7,371.5 537.9,372.7 538.1,371.1 538.3,370.5 538.5,371.6" fill="none" stroke="#111111" stroke-width="1.3" stroke-linejoin="round"/>
<polyline points="36.5,349.6 36.7,349.5 36.9,348.7 37.1,349.9 37.3,350.5 37.5,348.7 37.7,350.2 37.9,349.3 38.1,350.8 38.3,349.8 38.5,349.5 38.7,350.1 38.9,349.8 39.1,349.2 39.3,349.8 39.5,349.2 39.7,348.5 39.9,350.4 40.1,349.2 40.3,349.0 40.5,349.5 40.7,348.5 40.9,348.6 41.1,349.0 41.3,349.0 41.5,349.3 41.7,349.8 41.9,348.9 42.1,349.4 42.3,349.4 42.5,348.6 42.7,349.2 42.9,348.6 43.1,349.6 43.3,349.2 43.5,349.0 43.7,348.3 43.9,349.0 44.1,348.5 44.3,349.2 44.5,348.8 44.7,348.4 44.9,349.3 45.1,349.2 45.3,348.5 45.5,349.3 45.7,348.6 45.9,348.5 46.1,348.7 46.3,348.3 46.5,348.4 46.7,348.5 46.9,349.3 47.1,349.3 47.3,348.4 47.5,349.3 47.7,348.4 47.9,348.6 48.1,348.9 48.3,348.5 48.5,349.6 48.7,348.5 48.9,347.7 49.1,348.9 49.3,348.0 49.5,348.1 49.7,346.7 49.9,348.7 50.1,348.6 50.3,348.5 50.5,348.6 50.7,348.9 50.9,348.0 51.1,348.5 51.3,347.6 51.5,347.8 51.7,348.5 51.9,348.1 52.1,347.2 52.3,348.1 52.5,347.8 52.7,347.4 52.9,348.0 53.1,347.6 53.3,347.0 53.5,347.2 53.7,348.6 53.9,346.9 54.1,347.8 54.3,347.9 54.5,347.9 54.7,347.0 54.9,347.4 55.1,347.6 55.3,347.9 55.5,347.1 55.7,346.9 55.9,347.9 56.1,347.9 56.3,347.5 56.5,347.0 56.7,347.5 56.9,347.3 57.1,347.7 57.3,346.6 57.5,347.2 57.7,347.1 57.9,346.6 58.1,347.2 58.3,347.1 58.5,346.8 58.7,347.2 58.9,346.2 59.1,346.9 59.3,347.1 59.5,347.0 59.7,347.3 59.9,346.2 60.1,346.0 60.3,346.8 60.5,346.9 60.7,347.7 60.9,346.9 61.1,346.1 61.3,346.9 61.5,346.0 61.7,345.7 61.9,347.7 62.1,346.5 62.3,346.7 62.5,346.6 62.7,347.2 62.9,346.4 63.1,346.8 63.3,345.6 63.5,345.4 63.7,346.8 63.9,346.8 64.1,346.3 64.3,346.1 64.5,346.0 64.7,345.6 64.9,346.6 65.1,346.2 65.3,346.0 65.5,345.9 65.7,346.2 65.9,345.9 66.1,346.0 66.3,345.0 66.5,345.8 66.7,346.6 66.9,345.2 67.1,345.3 67.3,345.8 67.5,345.7 67.7,345.5 67.9,344.3 68.1,345.3 68.3,344.4 68.5,344.6 68.7,345.2 68.9,344.7 69.1,345.2 69.3,346.3 69.5,345.0 69.7,344.9 69.9,344.0 70.1,344.1 70.3,343.8 70.5,343.9 70.7,343.6 70.9,343.7 71.1,343.8 71.3,343.3 71.5,343.0 71.7,342.9 71.9,343.7 72.1,343.4 72.3,343.8 72.5,343.7 72.7,342.9 72.9,343.3 73.1,342.1 73.3,343.8 73.5,343.1 73.7,342.2 73.9,341.6 74.1,342.2 74.3,340.9 74.5,341.3 74.7,341.9 74.9,341.4 75.1,340.9 75.3,341.4 75.5,340.2 75.7,340.6 75.9,340.0 76.1,339.6 76.3,340.0 76.5,339.0 76.7,340.2 76.9,338.6 77.1,339.6 77.3,337.8 77.5,338.3 77.7,337.0 77.9,336.6 78.1,337.0 78.3,336.8 78.5,335.4 78.7,336.2 78.9,334.7 79.1,334.7 79.3,334.3 79.5,333.8 79.7,332.0 79.9,333.1 80.1,331.9 80.3,330.7 80.5,329.6 80.7,328.5 80.9,327.8 81.1,327.8 81.3,326.4 81.5,324.9 81.7,324.1 81.9,323.9 82.1,321.7 82.3,320.1 82.5,319.6 82.7,317.5 82.9,315.5 83.1,313.3 83.3,310.7 83.5,308.7 83.7,306.5 83.9,304.0 84.1,301.3 84.3,298.2 84.5,294.5 84.7,290.6 84.9,285.7 85.1,280.3 85.3,275.9 85.5,269.9 85.7,263.6 85.9,256.6 86.1,248.1 86.3,239.3 86.5,230.0 86.7,219.1 86.9,206.6 87.1,193.9 87.3,179.0 87.5,162.8 87.7,146.4 87.9,129.6 88.1,110.3 88.3,93.3 88.5,76.6 88.7,61.9 88.9,49.0 89.1,42.6 89.3,38.6 89.5,39.3 89.7,42.5 89.9,48.2 90.1,55.1 90.3,63.8 90.5,74.8 90.7,85.0 90.9,96.9 91.1,110.3 91.3,123.0 91.5,136.0 91.7,147.5 91.9,160.9 92.1,172.6 92.3,184.7 92.5,194.2 92.7,205.3 92.9,214.9 93.1,223.5 93.3,232.6 93.5,241.7 93.7,248.4 93.9,255.3 94.1,262.5 94.3,268.5 94.5,274.0 94.7,278.2 94.9,283.2 95.1,288.0 95.3,291.0 95.5,294.6 95.7,298.6 95.9,302.0 96.1,303.3 96.3,305.1 96.5,307.9 96.7,310.3 96.9,312.6 97.1,314.8 97.3,316.0 97.5,317.3 97.7,319.1 97.9,319.8 98.1,321.5 98.3,322.3 98.5,325.0 98.7,325.0 98.9,325.1 99.1,325.9 99.3,327.0 99.5,327.1 99.7,328.3 99.9,329.0 100.1,330.4 100.3,330.4 100.5,330.7 100.7,331.0 100.9,331.6 101.1,332.6 101.3,333.0 101.5,334.1 101.7,333.6 101.9,334.9 102.1,334.8 102.3,335.0 102.5,334.3 102.7,335.0 102.9,336.3 103.1,336.9 103.3,336.5 103.5,337.0 103.7,336.6 103.9,336.8 104.1,336.8 104.3,337.7 104.5,337.5 104.7,337.3 104.9,337.3 105.1,337.8 105.3,337.7 105.5,337.0 105.7,338.3 105.9,337.4 106.1,337.2 106.3,337.8 106.5,337.4 106.7,336.6 106.9,336.7 107.1,335.6 107.3,335.5 107.5,334.4 107.7,335.8 107.9,333.8 108.1,334.7 108.3,333.5 108.5,333.0 108.7,332.9 108.9,332.6 109.1,332.3 109.3,332.4 109.5,331.2 109.7,331.0 109.9,329.8 110.1,330.1 110.3,329.5 110.5,328.9 110.7,328.9 110.9,328.8 111.1,328.9 111.3,329.1 111.5,328.8 111.7,328.9 111.9,330.0 112.1,329.1 112.3,330.2 112.5,331.8 112.7,330.3 112.9,331.9 113.1,333.2 113.3,332.7 113.5,335.5 113.7,333.6 113.9,336.3 114.1,337.1 114.3,337.4 114.5,337.5 114.7,338.4 114.9,338.4 115.1,339.8 115.3,339.4 115.5,340.3 115.7,341.4 115.9,340.8 116.1,341.7 116.3,342.3 116.5,342.0 116.7,343.6 116.9,343.5 117.1,342.9 117.3,343.9 117.5,343.8 117.7,344.1 117.9,344.7 118.1,344.6 118.3,345.6 118.5,344.9 118.7,346.0 118.9,345.6 119.1,346.2 119.3,345.7 119.5,345.8 119.7,345.6 119.9,346.6 120.1,346.9 120.3,347.5 120.5,347.2 120.7,346.8 120.9,346.6 121.1,347.0 121.3,346.8 121.5,347.6 121.7,347.4 121.9,346.6 122.1,346.7 122.3,347.8 122.5,347.3 122.7,347.1 122.9,347.9 123.1,347.1 123.3,347.2 123.5,347.2 123.7,346.5 123.9,347.9 124.1,346.9 124.3,347.3 124.5,347.2 124.7,348.0 124.9,347.6 125.1,347.7 125.3,346.9 125.5,347.7 125.7,347.0 125.9,347.9 126.1,348.0 126.3,347.8 126.5,348.9 126.7,348.1 126.9,348.2 127.1,348.0 127.3,347.8 127.5,348.4 127.7,348.5 127.9,347.4 128.1,348.5 128.3,348.3 128.5,348.5 128.7,348.3 128.9,347.5 129.1,347.5 129.3,349.0 129.5,348.3 129.7,347.4 129.9,348.3 130.1,348.0 130.3,347.3 130.5,347.1 130.7,347.4 130.9,348.4 131.1,348.2 131.3,348.1 131.5,348.4 131.7,348.6 131.9,347.2 132.1,348.1 132.3,347.9 132.5,347.7 132.7,348.1 132.9,348.3 133.1,348.2 133.3,347.6 133.5,348.1 133.7,349.4 133.9,347.8 134.1,347.5 134.3,348.5 134.5,348.7 134.7,348.6 134.9,347.8 135.1,348.9 135.3,348.0 135.5,347.8 135.7,348.1 135.9,348.3 136.1,348.8 136.3,348.7 136.5,348.4 136.7,348.9 136.9,348.4 137.1,348.8 137.3,347.7 137.5,347.6 137.7,348.8 137.9,347.7 138.1,348.2 138.3,348.3 138.5,348.1 138.7,348.1 138.9,349.0 139.1,347.1 139.3,348.8 139.5,349.5 139.7,348.3 139.9,348.3 140.1,348.7 140.3,349.2 140.5,347.7 140.7,348.3 140.9,348.2 141.1,348.6 141.3,348.4 141.5,348.6 141.7,348.1 141.9,348.3 142.1,347.9 142.3,347.9 142.5,348.2 142.7,348.2 142.9,347.6 143.1,349.0 143.3,348.1 143.5,347.5 143.7,348.7 143.9,347.8 144.1,348.4 144.3,348.2 144.5,348.3 144.7,348.2 144.9,347.9 145.1,348.2 145.3,349.2 145.5,347.0 145.7,348.2 145.9,348.4 146.1,347.7 146.3,347.5 146.5,349.3 146.7,348.1 146.9,349.3 147.1,348.5 147.3,348.3 147.5,348.5 147.7,348.6 147.9,348.9 148.1,348.5 148.3,348.4 148.5,348.4 148.7,349.0 148.9,348.8 149.1,347.9 149.3,348.1 149.5,348.6 149.7,348.1 149.9,348.2 150.1,348.0 150.3,348.3 150.5,348.7 150.7,349.0 150.9,348.5 151.1,349.5 151.3,348.5 151.5,350.1 151.7,349.0 151.9,348.8 152.1,348.3 152.3,347.2 152.5,348.5 152.7,348.7 152.9,349.6 153.1,347.9 153.3,349.6 153.5,348.5 153.7,349.0 153.9,347.4 154.1,348.7 154.3,348.5 154.5,349.0 154.7,348.7 154.9,348.1 155.1,349.2 155.3,349.1 155.5,349.0 155.7,349.2 155.9,349.3 156.1,348.7 156.3,348.0 156.5,348.0 156.7,349.4 156.9,349.1 157.1,348.8 157.3,348.5 157.5,348.7 157.7,348.7 157.9,348.5 158.1,348.4 158.3,349.8 158.5,348.8 158.7,348.4 158.9,348.1 159.1,348.3 159.3,349.1 159.5,349.1 159.7,348.6 159.9,348.7 160.1,348.5 160.3,348.1 160.5,349.3 160.7,348.9 160.9,349.9 161.1,348.3 161.3,348.6 161.5,349.1 161.7,348.6 161.9,348.0 162.1,348.2 162.3,348.7 162.5,348.9 162.7,348.6 162.9,349.2 163.1,349.2 163.3,348.8 163.5,348.7 163.7,348.5 163.9,348.9 164.1,349.1 164.3,348.7 164.5,348.9 164.7,348.5 164.9,347.9 165.1,348.1 165.3,349.0 165.5,348.9 165.7,349.4 165.9,348.7 166.1,349.1 166.3,349.3 166.5,349.1 166.7,348.3 166.9,348.5 167.1,348.7 167.3,348.1 167.5,348.8 167.7,349.1 167.9,348.4 168.1,349.6 168.3,348.4 168.5,348.5 168.7,348.5 168.9,348.2 169.1,348.8 169.3,348.6 169.5,349.4 169.7,348.9 169.9,348.8 170.1,348.4 170.3,347.8 170.5,348.5 170.7,348.1 170.9,349.0 171.1,348.5 171.3,349.3 171.5,348.8 171.7,348.9 171.9,348.5 172.1,348.5 172.3,348.7 172.5,348.9 172.7,348.0 172.9,348.6 173.1,349.7 173.3,348.3 173.5,348.2 173.7,348.0 173.9,347.6 174.1,348.9 174.3,348.3 174.5,348.4 174.7,349.2 174.9,349.5 175.1,347.8 175.3,348.7 175.5,348.5 175.7,348.4 175.9,348.4 176.1,348.1 176.3,348.9 176.5,348.4 176.7,348.3 176.9,348.7 177.1,348.5 177.3,348.3 177.5,348.2 177.7,348.9 177.9,348.2 178.1,347.9 178.3,347.5 178.5,347.8 178.7,347.4 178.9,347.9 179.1,348.0 179.3,346.8 179.5,347.8 179.7,348.1 179.9,347.9 180.1,347.3 180.3,348.4 180.5,347.4 180.7,347.1 180.9,347.1 181.1,347.6 181.3,348.1 181.5,348.2 181.7,347.7 181.9,346.9 182.1,347.2 182.3,347.0 182.5,347.4 182.7,346.5 182.9,347.4 183.1,347.7 183.3,347.3 183.5,347.5 183.7,346.8 183.9,346.5 184.1,346.9 184.3,347.7 184.5,347.6 184.7,346.9 184.9,347.6 185.1,346.8 185.3,347.7 185.5,347.2 185.7,346.7 185.9,347.3 186.1,346.4 186.3,346.3 186.5,346.0 186.7,346.8 186.9,346.6 187.1,346.6 187.3,346.3 187.5,347.2 187.7,346.2 187.9,346.0 188.1,346.9 188.3,347.0 188.5,346.4 188.7,345.3 188.9,345.8 189.1,346.3 189.3,345.9 189.5,346.6 189.7,345.1 189.9,346.0 190.1,345.2 190.3,346.1 190.5,345.3 190.7,345.8 190.9,344.8 191.1,344.3 191.3,344.3 191.5,344.4 191.7,344.1 191.9,345.0 192.1,344.9 192.3,344.2 192.5,343.4 192.7,343.7 192.9,343.2 193.1,344.1 193.3,343.3 193.5,343.1 193.7,342.4 193.9,341.4 194.1,341.7 194.3,341.3 194.5,341.7 194.7,341.3 194.9,340.5 195.1,340.4 195.3,341.1 195.5,339.5 195.7,339.2 195.9,339.2 196.1,338.7 196.3,338.6 196.5,338.8 196.7,339.2 196.9,337.2 197.1,337.9 197.3,337.8 197.5,337.7 197.7,337.5 197.9,337.5 198.1,338.1 198.3,337.5 198.5,337.7 198.7,337.8 198.9,338.0 199.1,338.0 199.3,338.7 199.5,338.3 199.7,338.5 199.9,338.5 200.1,338.1 200.3,338.2 200.5,338.2 200.7,338.8 200.9,338.3 201.1,338.1 201.3,338.7 201.5,338.7 201.7,337.4 201.9,338.9 202.1,337.9 202.3,337.5 202.5,337.8 202.7,336.9 202.9,336.2 203.1,337.2 203.3,335.1 203.5,335.1 203.7,335.0 203.9,333.5 204.1,333.3 204.3,333.0 204.5,333.3 204.7,331.0 204.9,330.8 205.1,330.5 205.3,329.6 205.5,328.3 205.7,328.6 205.9,327.9 206.1,327.6 206.3,327.6 206.5,327.2 206.7,326.7 206.9,326.5 207.1,325.8 207.3,326.2 207.5,326.5 207.7,326.2 207.9,326.6 208.1,326.3 208.3,327.6 208.5,328.0 208.7,326.8 208.9,327.3 209.1,326.9 209.3,327.6 209.5,327.1 209.7,326.7 209.9,326.3 210.1,326.2 210.3,325.2 210.5,325.5 210.7,324.2 210.9,324.2 211.1,323.2 211.3,322.8 211.5,321.3 211.7,320.8 211.9,318.6 212.1,318.1 212.3,316.4 212.5,315.2 212.7,313.6 212.9,312.5 213.1,309.4 213.3,308.9 213.5,306.3 213.7,305.9 213.9,302.6 214.1,301.5 214.3,299.6 214.5,299.9 214.7,297.2 214.9,296.8 215.1,295.6 215.3,294.3 215.5,294.7 215.7,295.0 215.9,294.7 216.1,295.7 216.3,295.6 216.5,296.6 216.7,297.3 216.9,298.7 217.1,300.7 217.3,301.1 217.5,302.3 217.7,303.2 217.9,304.4 218.1,306.7 218.3,306.6 218.5,307.9 218.7,309.3 218.9,310.1 219.1,312.2 219.3,310.9 219.5,313.0 219.7,313.9 219.9,313.6 220.1,314.4 220.3,315.4 220.5,316.5 220.7,315.7 220.9,315.8 221.1,317.4 221.3,318.1 221.5,317.6 221.7,317.1 221.9,319.3 222.1,319.0 222.3,320.1 222.5,320.1 222.7,320.5 222.9,321.0 223.1,322.7 223.3,323.3 223.5,322.2 223.7,323.6 223.9,325.7 224.1,325.4 224.3,325.6 224.5,327.1 224.7,327.8 224.9,328.6 225.1,329.1 225.3,330.0 225.5,330.6 225.7,331.7 225.9,331.8 226.1,332.8 226.3,333.5 226.5,334.8 226.7,335.0 226.9,335.3 227.1,336.2 227.3,336.6 227.5,337.5 227.7,337.7 227.9,338.8 228.1,339.0 228.3,338.7 228.5,338.9 228.7,339.9 228.9,340.1 229.1,340.2 229.3,339.8 229.5,339.9 229.7,341.3 229.9,341.8 230.1,342.1 230.3,341.3 230.5,342.7 230.7,342.2 230.9,342.8 231.1,343.1 231.3,342.7 231.5,343.0 231.7,342.4 231.9,343.2 232.1,342.9 232.3,344.2 232.5,344.1 232.7,344.7 232.9,344.6 233.1,344.2 233.3,344.8 233.5,344.6 233.7,345.2 233.9,345.2 234.1,344.7 234.3,345.3 234.5,345.4 234.7,345.3 234.9,346.0 235.1,346.5 235.3,345.6 235.5,345.6 235.7,344.8 235.9,345.9 236.1,345.8 236.3,345.1 236.5,346.4 236.7,346.6 236.9,346.0 237.1,346.2 237.3,346.0 237.5,346.9 237.7,345.8 237.9,346.5 238.1,347.7 238.3,346.8 238.5,347.1 238.7,346.8 238.9,346.3 239.1,347.0 239.3,347.2 239.5,346.6 239.7,347.3 239.9,347.8 240.1,347.7 240.3,346.5 240.5,346.8 240.7,346.5 240.9,347.9 241.1,347.7 241.3,347.8 241.5,347.0 241.7,346.9 241.9,347.6 242.1,347.6 242.3,347.2 242.5,347.7 242.7,348.0 242.9,347.8 243.1,347.2 243.3,346.7 243.5,347.6 243.7,347.9 243.9,347.7 244.1,347.6 244.3,347.5 244.5,348.2 244.7,347.9 244.9,348.0 245.1,347.4 245.3,347.6 245.5,348.0 245.7,347.4 245.9,347.2 246.1,347.7 246.3,348.4 246.5,347.9 246.7,348.5 246.9,347.6 247.1,347.4 247.3,346.8 247.5,347.1 247.7,348.0 247.9,347.3 248.1,347.4 248.3,347.2 248.5,346.6 248.7,346.4 248.9,346.3 249.1,346.4 249.3,346.1 249.5,345.9 249.7,345.5 249.9,344.9 250.1,345.0 250.3,344.5 250.5,345.4 250.7,343.7 250.9,344.6 251.1,345.9 251.3,344.6 251.5,344.3 251.7,345.0 251.9,345.8 252.1,345.2 252.3,345.8 252.5,345.8 252.7,345.8 252.9,347.7 253.1,346.4 253.3,346.4 253.5,346.6 253.7,347.3 253.9,347.5 254.1,347.9 254.3,347.7 254.5,347.1 254.7,348.2 254.9,348.0 255.1,348.1 255.3,347.6 255.5,348.1 255.7,348.2 255.9,348.6 256.1,347.9 256.3,348.7 256.5,348.8 256.7,348.2 256.9,348.5 257.1,348.4 257.3,349.3 257.5,347.7 257.7,348.8 257.9,348.1 258.1,348.8 258.3,349.4 258.5,348.7 258.7,349.1 258.9,348.6 259.1,350.0 259.3,349.5 259.5,349.6 259.7,348.4 259.9,348.6 260.1,349.7 260.3,349.0 260.5,349.0 260.7,349.3 260.9,348.5 261.1,349.5 261.3,349.2 261.5,349.4 261.7,348.8 261.9,349.4 262.1,348.8 262.3,349.7 262.5,349.8 262.7,349.7 262.9,349.5 263.1,349.5 263.3,347.9 263.5,349.6 263.7,349.1 263.9,349.3 264.1,349.1 264.3,348.5 264.5,349.0 264.7,349.6 264.9,350.0 265.1,348.9 265.3,348.8 265.5,350.0 265.7,348.8 265.9,350.3 266.1,349.3 266.3,348.8 266.5,349.8 266.7,350.1 266.9,348.6 267.1,350.1 267.3,349.1 267.5,350.0 267.7,349.1 267.9,348.5 268.1,349.5 268.3,349.8 268.5,350.3 268.7,350.2 268.9,349.6 269.1,349.2 269.3,349.0 269.5,349.2 269.7,348.9 269.9,349.2 270.1,348.0 270.3,349.4 270.5,349.3 270.7,350.6 270.9,349.7 271.1,349.1 271.3,349.6 271.5,348.7 271.7,349.0 271.9,348.4 272.1,350.0 272.3,349.6 272.5,348.7 272.7,349.3 272.9,349.8 273.1,349.5 273.3,349.5 273.5,348.8 273.7,348.9 273.9,349.3 274.1,349.7 274.3,348.8 274.5,348.7 274.7,349.8 274.9,348.7 275.1,349.7 275.3,349.2 275.5,349.5 275.7,349.9 275.9,349.3 276.1,349.3 276.3,348.4 276.5,348.5 276.7,349.1 276.9,349.5 277.1,349.3 277.3,349.7 277.5,348.6 277.7,348.4 277.9,348.8 278.1,348.2 278.3,348.1 278.5,347.5 278.7,348.4 278.9,347.3 279.1,348.1 279.3,347.1 279.5,348.3 279.7,347.3 279.9,348.2 280.1,347.1 280.3,347.7 280.5,348.6 280.7,347.6 280.9,348.1 281.1,348.0 281.3,347.1 281.5,348.5 281.7,348.7 281.9,348.0 282.1,348.9 282.3,348.3 282.5,348.2 282.7,348.8 282.9,348.5 283.1,350.0 283.3,348.1 283.5,349.3 283.7,349.5 283.9,348.0 284.1,348.1 284.3,349.3 284.5,348.8 284.7,349.2 284.9,349.6 285.1,348.8 285.3,348.5 285.5,347.7 285.7,349.1 285.9,348.6 286.1,349.2 286.3,349.1 286.5,348.3 286.7,349.9 286.9,349.5 287.1,349.4 287.3,348.4 287.5,348.7 287.7,348.7 287.9,348.7 288.1,348.4 288.3,349.1 288.5,349.0 288.7,349.1 288.9,348.6 289.1,349.5 289.3,348.9 289.5,347.5 289.7,348.5 289.9,348.8 290.1,349.3 290.3,348.6 290.5,348.6 290.7,348.4 290.9,349.0 291.1,348.5 291.3,348.4 291.5,348.3 291.7,348.9 291.9,348.3 292.1,347.7 292.3,348.9 292.5,348.2 292.7,348.7 292.9,348.7 293.1,349.0 293.3,348.9 293.5,348.1 293.7,348.3 293.9,347.7 294.1,349.1 294.3,348.5 294.5,348.9 294.7,348.0 294.9,347.1 295.1,348.9 295.3,348.1 295.5,348.1 295.7,348.1 295.9,348.3 296.1,348.2 296.3,347.1 296.5,348.4 296.7,347.6 296.9,347.6 297.1,348.6 297.3,348.2 297.5,347.5 297.7,346.7 297.9,347.6 298.1,347.8 298.3,347.4 298.5,346.8 298.7,346.9 298.9,346.7 299.1,347.3 299.3,347.6 299.5,347.6 299.7,346.7 299.9,347.1 300.1,347.2 300.3,346.6 300.5,346.7 300.7,347.7 300.9,346.7 301.1,347.0 301.3,346.2 301.5,346.4 301.7,345.4 301.9,346.2 302.1,346.7 302.3,347.0 302.5,346.5 302.7,346.1 302.9,345.7 303.1,345.3 303.3,345.4 303.5,345.6 303.7,344.8 303.9,345.5 304.1,344.4 304.3,343.9 304.5,344.1 304.7,343.6 304.9,343.6 305.1,344.7 305.3,343.9 305.5,343.9 305.7,344.2 305.9,344.1 306.1,343.0 306.3,343.7 306.5,343.0 306.7,342.6 306.9,342.5 307.1,341.3 307.3,341.4 307.5,341.5 307.7,341.5 307.9,340.7 308.1,340.5 308.3,340.7 308.5,340.6 308.7,339.9 308.9,339.8 309.1,338.5 309.3,338.1 309.5,338.0 309.7,337.2 309.9,336.6 310.1,337.1 310.3,335.6 310.5,334.7 310.7,334.8 310.9,334.8 311.1,333.2 311.3,333.0 311.5,331.4 311.7,330.5 311.9,329.5 312.1,328.8 312.3,328.8 312.5,326.2 312.7,326.5 312.9,324.0 313.1,323.1 313.3,322.2 313.5,320.7 313.7,319.0 313.9,316.4 314.1,315.7 314.3,313.3 314.5,313.2 314.7,309.8 314.9,308.0 315.1,305.2 315.3,303.3 315.5,300.6 315.7,299.5 315.9,296.5 316.1,294.6 316.3,291.6 316.5,289.5 316.7,288.2 316.9,285.1 317.1,282.8 317.3,282.3 317.5,280.2 317.7,279.5 317.9,279.5 318.1,278.2 318.3,279.1 318.5,278.7 318.7,280.4 318.9,281.4 319.1,281.8 319.3,283.6 319.5,285.1 319.7,287.6 319.9,290.2 320.1,291.2 320.3,294.7 320.5,295.9 320.7,298.4 320.9,300.3 321.1,304.5 321.3,305.7 321.5,307.9 321.7,309.5 321.9,312.3 322.1,312.6 322.3,315.5 322.5,318.3 322.7,318.6 322.9,320.3 323.1,322.1 323.3,322.7 323.5,324.4 323.7,326.0 323.9,326.8 324.1,327.9 324.3,328.6 324.5,329.9 324.7,330.6 324.9,332.2 325.1,332.6 325.3,332.9 325.5,332.5 325.7,334.7 325.9,335.4 326.1,335.1 326.3,335.2 326.5,336.1 326.7,337.7 326.9,337.1 327.1,337.9 327.3,338.7 327.5,339.6 327.7,339.4 327.9,339.7 328.1,339.8 328.3,341.2 328.5,341.3 328.7,341.0 328.9,340.6 329.1,341.2 329.3,342.1 329.5,341.7 329.7,342.8 329.9,342.8 330.1,342.9 330.3,343.3 330.5,343.4 330.7,343.0 330.9,343.4 331.1,344.9 331.3,343.3 331.5,343.8 331.7,344.8 331.9,344.3 332.1,344.1 332.3,344.0 332.5,345.1 332.7,345.4 332.9,345.7 333.1,345.2 333.3,345.8 333.5,344.9 333.7,345.6 333.9,345.2 334.1,345.8 334.3,346.2 334.5,346.4 334.7,345.5 334.9,346.7 335.1,345.9 335.3,345.7 335.5,346.2 335.7,345.6 335.9,346.4 336.1,346.6 336.3,346.5 336.5,346.9 336.7,346.5 336.9,346.7 337.1,346.1 337.3,346.9 337.5,346.5 337.7,346.7 337.9,347.0 338.1,347.2 338.3,346.3 338.5,346.4 338.7,347.0 338.9,347.5 339.1,347.5 339.3,347.8 339.5,348.0 339.7,347.6 339.9,347.4 340.1,347.0 340.3,347.0 340.5,347.3 340.7,347.7 340.9,347.7 341.1,347.6 341.3,347.6 341.5,348.0 341.7,347.8 341.9,347.9 342.1,347.9 342.3,347.5 342.5,347.3 342.7,348.1 342.9,348.0 343.1,347.7 343.3,347.7 343.5,349.0 343.7,347.5 343.9,347.8 344.1,348.1 344.3,347.4 344.5,348.0 344.7,348.9 344.9,348.5 345.1,348.3 345.3,348.3 345.5,348.1 345.7,348.5 345.9,348.0 346.1,347.9 346.3,348.1 346.5,348.5 346.7,348.3 346.9,348.4 347.1,347.1 347.3,348.7 347.5,349.3 347.7,348.8 347.9,348.0 348.1,347.7 348.3,348.3 348.5,347.7 348.7,348.5 348.9,347.9 349.1,348.6 349.3,348.8 349.5,347.1 349.7,348.3 349.9,347.8 350.1,347.5 350.3,347.9 350.5,348.1 350.7,348.7 350.9,347.4 351.1,348.7 351.3,349.2 351.5,348.5 351.7,348.4 351.9,348.1 352.1,347.6 352.3,348.4 352.5,348.3 352.7,348.5 352.9,349.4 353.1,348.5 353.3,348.3 353.5,348.9 353.7,347.4 353.9,347.5 354.1,347.9 354.3,347.8 354.5,348.4 354.7,347.9 354.9,348.9 355.1,348.8 355.3,348.4 355.5,347.8 355.7,348.3 355.9,348.4 356.1,347.4 356.3,348.1 356.5,348.3 356.7,348.0 356.9,348.7 357.1,348.5 357.3,347.5 357.5,347.9 357.7,347.4 357.9,348.1 358.1,347.4 358.3,348.3 358.5,348.0 358.7,348.2 358.9,347.7 359.1,347.0 359.3,348.6 359.5,347.6 359.7,348.3 359.9,347.8 360.1,347.9 360.3,348.5 360.5,347.7 360.7,348.2 360.9,346.7 361.1,347.9 361.3,347.3 361.5,347.3 361.7,347.3 361.9,347.5 362.1,348.1 362.3,346.3 362.5,347.2 362.7,346.8 362.9,347.6 363.1,346.8 363.3,347.2 363.5,346.7 363.7,347.2 363.9,347.3 364.1,346.5 364.3,346.7 364.5,345.9 364.7,346.6 364.9,346.8 365.1,346.0 365.3,346.8 365.5,345.1 365.7,345.0 365.9,345.2 366.1,345.5 366.3,345.6 366.5,345.4 366.7,345.2 366.9,345.4 367.1,344.6 367.3,344.0 367.5,343.8 367.7,345.3 367.9,342.8 368.1,343.6 368.3,344.1 368.5,343.3 368.7,342.3 368.9,342.3 369.1,342.4 369.3,342.1 369.5,340.6 369.7,340.9 369.9,340.2 370.1,340.0 370.3,339.6 370.5,338.1 370.7,336.9 370.9,337.2 371.1,337.1 371.3,335.8 371.5,334.8 371.7,335.1 371.9,332.5 372.1,332.6 372.3,330.9 372.5,330.2 372.7,329.3 372.9,329.0 373.1,326.7 373.3,325.8 373.5,324.1 373.7,324.1 373.9,322.4 374.1,321.7 374.3,319.8 374.5,319.0 374.7,318.5 374.9,316.7 375.1,315.9 375.3,314.7 375.5,313.1 375.7,311.4 375.9,311.6 376.1,310.2 376.3,309.6 376.5,307.1 376.7,306.4 376.9,305.3 377.1,305.2 377.3,305.5 377.5,304.6 377.7,303.8 377.9,303.5 378.1,303.4 378.3,302.7 378.5,302.9 378.7,302.7 378.9,301.5 379.1,302.6 379.3,303.6 379.5,303.0 379.7,303.5 379.9,303.6 380.1,304.2 380.3,305.5 380.5,305.3 380.7,305.5 380.9,305.1 381.1,307.0 381.3,306.9 381.5,307.6 381.7,309.5 381.9,310.1 382.1,309.3 382.3,311.3 382.5,311.6 382.7,311.4 382.9,312.6 383.1,311.8 383.3,312.3 383.5,312.5 383.7,312.8 383.9,313.9 384.1,312.9 384.3,313.0 384.5,312.9 384.7,313.3 384.9,312.8 385.1,313.0 385.3,311.8 385.5,311.0 385.7,310.9 385.9,310.5 386.1,309.3 386.3,309.2 386.5,309.1 386.7,307.1 386.9,306.6 387.1,306.4 387.3,304.6 387.5,303.8 387.7,302.9 387.9,303.1 388.1,302.6 388.3,301.9 388.5,301.8 388.7,302.3 388.9,302.2 389.1,301.4 389.3,302.5 389.5,303.2 389.7,304.2 389.9,304.6 390.1,305.5 390.3,306.7 390.5,307.3 390.7,309.5 390.9,310.5 391.1,312.5 391.3,313.1 391.5,314.8 391.7,316.0 391.9,317.3 392.1,319.6 392.3,320.3 392.5,322.1 392.7,322.6 392.9,324.4 393.1,324.6 393.3,326.3 393.5,327.4 393.7,328.9 393.9,329.7 394.1,330.4 394.3,331.8 394.5,332.3 394.7,333.2 394.9,334.1 395.1,334.4 395.3,334.9 395.5,335.8 395.7,336.1 395.9,337.0 396.1,337.9 396.3,338.2 396.5,338.1 396.7,338.0 396.9,339.1 397.1,339.4 397.3,340.3 397.5,339.9 397.7,340.3 397.9,341.0 398.1,340.7 398.3,341.0 398.5,342.2 398.7,342.2 398.9,341.9 399.1,341.8 399.3,341.3 399.5,342.1 399.7,341.9 399.9,341.9 400.1,341.5 400.3,341.7 400.5,341.5 400.7,341.7 400.9,342.1 401.1,341.5 401.3,340.3 401.5,340.5 401.7,340.1 401.9,340.4 402.1,340.9 402.3,340.8 402.5,340.2 402.7,340.7 402.9,340.2 403.1,340.0 403.3,340.1 403.5,340.6 403.7,341.9 403.9,340.8 404.1,342.4 404.3,342.8 404.5,342.3 404.7,342.7 404.9,342.8 405.1,343.4 405.3,344.1 405.5,344.1 405.7,344.9 405.9,345.3 406.1,345.2 406.3,345.4 406.5,345.5 406.7,345.9 406.9,345.4 407.1,346.3 407.3,346.4 407.5,346.0 407.7,347.6 407.9,346.2 408.1,346.3 408.3,347.0 408.5,346.0 408.7,346.6 408.9,346.3 409.1,346.7 409.3,347.2 409.5,347.4 409.7,347.9 409.9,347.8 410.1,348.0 410.3,347.8 410.5,347.3 410.7,348.1 410.9,347.3 411.1,347.3 411.3,348.4 411.5,348.1 411.7,347.8 411.9,348.1 412.1,348.2 412.3,347.1 412.5,347.8 412.7,347.3 412.9,347.9 413.1,347.6 413.3,348.6 413.5,348.2 413.7,347.6 413.9,348.0 414.1,347.4 414.3,348.0 414.5,348.3 414.7,348.2 414.9,347.1 415.1,347.9 415.3,348.4 415.5,348.3 415.7,348.7 415.9,347.5 416.1,348.4 416.3,347.9 416.5,348.3 416.7,348.4 416.9,348.6 417.1,348.0 417.3,348.4 417.5,347.7 417.7,347.6 417.9,348.6 418.1,348.3 418.3,347.5 418.5,347.9 418.7,348.4 418.9,349.1 419.1,348.9 419.3,348.8 419.5,347.5 419.7,348.4 419.9,348.7 420.1,348.6 420.3,348.6 420.5,348.3 420.7,349.3 420.9,349.2 421.1,348.4 421.3,348.0 421.5,349.5 421.7,348.2 421.9,349.1 422.1,349.5 422.3,348.0 422.5,348.7 422.7,348.3 422.9,348.8 423.1,348.7 423.3,349.5 423.5,348.8 423.7,348.5 423.9,349.1 424.1,348.4 424.3,348.4 424.5,349.7 424.7,348.2 424.9,348.3 425.1,348.6 425.3,348.1 425.5,347.5 425.7,349.1 425.9,348.2 426.1,348.3 426.3,348.4 426.5,348.1 426.7,348.1 426.9,348.7 427.1,349.8 427.3,349.0 427.5,349.0 427.7,347.9 427.9,348.6 428.1,348.0 428.3,349.0 428.5,348.5 428.7,348.6 428.9,348.6 429.1,348.3 429.3,347.9 429.5,348.9 429.7,347.9 429.9,348.0 430.1,348.5 430.3,348.3 430.5,348.7 430.7,349.1 430.9,348.7 431.1,348.7 431.3,348.6 431.5,349.0 431.7,347.7 431.9,348.8 432.1,348.1 432.3,348.0 432.5,348.6 432.7,348.4 432.9,348.9 433.1,349.1 433.3,347.4 433.5,348.5 433.7,349.5 433.9,349.0 434.1,349.3 434.3,348.6 434.5,347.8 434.7,348.0 434.9,348.9 435.1,349.0 435.3,348.2 435.5,348.4 435.7,348.6 435.9,347.6 436.1,348.3 436.3,349.3 436.5,349.6 436.7,348.4 436.9,349.4 437.1,348.2 437.3,348.0 437.5,347.3 437.7,348.9 437.9,348.2 438.1,349.6 438.3,348.6 438.5,348.5 438.7,347.5 438.9,349.1 439.1,348.2 439.3,348.3 439.5,347.2 439.7,348.8 439.9,348.8 440.1,348.0 440.3,348.3 440.5,348.5 440.7,348.7 440.9,348.3 441.1,349.1 441.3,348.1 441.5,347.9 441.7,347.9 441.9,346.9 442.1,347.7 442.3,348.6 442.5,348.2 442.7,347.7 442.9,348.2 443.1,347.0 443.3,347.9 443.5,348.3 443.7,348.3 443.9,347.6 444.1,348.4 444.3,348.9 444.5,347.7 444.7,348.2 444.9,347.1 445.1,346.8 445.3,348.1 445.5,347.8 445.7,347.8 445.9,347.4 446.1,347.5 446.3,348.1 446.5,348.5 446.7,347.5 446.9,346.7 447.1,348.1 447.3,347.8 447.5,347.8 447.7,347.5 447.9,348.5 448.1,347.3 448.3,347.5 448.5,346.3 448.7,346.9 448.9,346.8 449.1,347.1 449.3,347.2 449.5,346.6 449.7,347.8 449.9,346.3 450.1,346.6 450.3,346.8 450.5,346.0 450.7,346.9 450.9,346.8 451.1,346.3 451.3,347.3 451.5,346.3 451.7,346.3 451.9,345.6 452.1,345.1 452.3,345.6 452.5,345.6 452.7,345.4 452.9,345.9 453.1,344.2 453.3,344.7 453.5,344.2 453.7,345.7 453.9,344.5 454.1,344.4 454.3,343.9 454.5,344.7 454.7,343.9 454.9,344.0 455.1,342.7 455.3,344.0 455.5,343.4 455.7,343.2 455.9,343.3 456.1,342.3 456.3,342.0 456.5,342.2 456.7,341.7 456.9,341.0 457.1,340.8 457.3,340.2 457.5,340.4 457.7,340.1 457.9,339.2 458.1,339.7 458.3,337.5 458.5,337.7 458.7,338.2 458.9,336.6 459.1,335.5 459.3,336.4 459.5,335.4 459.7,333.9 459.9,334.3 460.1,332.7 460.3,331.9 460.5,331.9 460.7,331.0 460.9,330.0 461.1,329.6 461.3,328.6 461.5,328.4 461.7,327.6 461.9,327.2 462.1,325.9 462.3,324.7 462.5,323.9 462.7,323.7 462.9,323.8 463.1,322.8 463.3,321.3 463.5,321.4 463.7,319.7 463.9,320.1 464.1,318.8 464.3,318.8 464.5,318.3 464.7,317.4 464.9,317.3 465.1,316.3 465.3,316.5 465.5,316.9 465.7,318.3 465.9,316.5 466.1,316.2 466.3,315.8 466.5,317.0 466.7,315.9 466.9,316.6 467.1,317.6 467.3,317.2 467.5,319.1 467.7,319.4 467.9,319.2 468.1,319.8 468.3,320.1 468.5,320.7 468.7,322.4 468.9,323.2 469.1,323.8 469.3,324.5 469.5,324.9 469.7,326.1 469.9,326.0 470.1,327.5 470.3,329.0 470.5,329.6 470.7,329.5 470.9,330.2 471.1,331.8 471.3,332.7 471.5,331.7 471.7,332.9 471.9,333.9 472.1,335.0 472.3,334.6 472.5,335.9 472.7,336.0 472.9,337.9 473.1,337.5 473.3,337.7 473.5,338.1 473.7,339.3 473.9,339.5 474.1,339.1 474.3,340.1 474.5,339.8 474.7,340.4 474.9,340.5 475.1,340.8 475.3,341.5 475.5,341.7 475.7,342.7 475.9,343.1 476.1,342.9 476.3,342.7 476.5,343.9 476.7,342.7 476.9,343.0 477.1,344.5 477.3,344.7 477.5,345.0 477.7,344.6 477.9,344.3 478.1,344.8 478.3,345.5 478.5,345.0 478.7,345.2 478.9,344.9 479.1,345.2 479.3,346.3 479.5,346.2 479.7,345.5 479.9,345.7 480.1,346.0 480.3,346.7 480.5,345.9 480.7,346.5 480.9,345.6 481.1,346.1 481.3,347.0 481.5,347.3 481.7,346.4 481.9,346.6 482.1,347.5 482.3,346.9 482.5,346.9 482.7,347.5 482.9,347.4 483.1,347.9 483.3,347.8 483.5,347.2 483.7,347.4 483.9,347.5 484.1,346.9 484.3,347.1 484.5,348.1 484.7,346.9 484.9,348.2 485.1,347.9 485.3,347.7 485.5,348.1 485.7,348.1 485.9,348.5 486.1,347.7 486.3,347.9 486.5,347.9 486.7,349.0 486.9,348.5 487.1,347.6 487.3,348.0 487.5,347.8 487.7,348.2 487.9,348.3 488.1,349.4 488.3,347.3 488.5,348.8 488.7,348.5 488.9,348.0 489.1,348.3 489.3,348.1 489.5,348.4 489.7,348.9 489.9,347.7 490.1,349.1 490.3,348.3 490.5,349.2 490.7,348.7 490.9,349.1 491.1,348.8 491.3,349.1 491.5,348.6 491.7,348.2 491.9,348.9 492.1,349.0 492.3,349.7 492.5,347.6 492.7,348.6 492.9,349.2 493.1,348.1 493.3,348.6 493.5,349.8 493.7,349.4 493.9,348.3 494.1,349.5 494.3,349.4 494.5,349.2 494.7,349.0 494.9,348.9 495.1,348.4 495.3,348.6 495.5,349.2 495.7,348.9 495.9,349.8 496.1,348.7 496.3,347.7 496.5,348.7 496.7,349.0 496.9,349.1 497.1,348.9 497.3,348.5 497.5,349.7 497.7,348.6 497.9,349.3 498.1,348.8 498.3,348.4 498.5,349.7 498.7,347.7 498.9,348.6 499.1,349.2 499.3,348.8 499.5,349.4 499.7,349.0 499.9,348.8 500.1,350.1 500.3,348.9 500.5,349.0 500.7,348.5 500.9,348.7 501.1,349.4 501.3,349.3 501.5,349.1 501.7,348.7 501.9,349.4 502.1,348.2 502.3,348.9 502.5,349.0 502.7,348.7 502.9,349.2 503.1,348.8 503.3,348.7 503.5,350.0 503.7,349.5 503.9,349.7 504.1,349.1 504.3,349.6 504.5,349.5 504.7,349.7 504.9,350.3 505.1,349.0 505.3,349.3 505.5,349.1 505.7,347.4 505.9,348.4 506.1,349.1 506.3,349.4 506.5,348.8 506.7,349.7 506.9,349.8 507.1,348.9 507.3,349.8 507.5,350.0 507.7,349.4 507.9,348.6 508.1,349.9 508.3,349.1 508.5,348.9 508.7,349.2 508.9,348.9 509.1,349.7 509.3,349.5 509.5,349.7 509.7,349.4 509.9,348.7 510.1,349.1 510.3,349.6 510.5,348.9 510.7,350.6 510.9,349.0 511.1,348.8 511.3,349.7 511.5,349.5 511.7,349.1 511.9,349.0 512.1,349.3 512.3,349.5 512.5,349.5 512.7,348.9 512.9,349.3 513.1,349.5 513.3,349.5 513.5,347.5 513.7,348.6 513.9,348.7 514.1,348.9 514.3,349.1 514.5,349.5 514.7,349.3 514.9,349.0 515.1,349.0 515.3,349.9 515.5,348.7 515.7,349.1 515.9,349.7 516.1,349.1 516.3,347.9 516.5,349.1 516.7,348.7 516.9,348.8 517.1,349.3 517.3,349.0 517.5,348.6 517.7,349.1 517.9,348.8 518.1,348.6 518.3,348.6 518.5,348.6 518.7,348.2 518.9,348.0 519.1,348.2 519.3,347.6 519.5,347.3 519.7,348.5 519.9,347.6 520.1,347.6 520.3,347.4 520.5,347.3 520.7,347.1 520.9,347.0 521.1,346.3 521.3,347.0 521.5,345.9 521.7,346.6 521.9,344.8 522.1,345.0 522.3,345.8 522.5,344.9 522.7,344.4 522.9,344.6 523.1,343.6 523.3,343.8 523.5,342.3 523.7,342.9 523.9,342.5 524.1,342.7 524.3,342.6 524.5,341.4 524.7,342.3 524.9,340.9 525.1,339.8 525.3,339.4 525.5,341.1 525.7,340.0 525.9,339.5 526.1,339.2 526.3,338.9 526.5,339.9 526.7,339.1 526.9,339.9 527.1,338.9 527.3,337.8 527.5,339.4 527.7,338.8 527.9,339.0 528.1,340.0 528.3,339.2 528.5,340.1 528.7,339.8 528.9,339.6 529.1,340.5 529.3,340.2 529.5,341.4 529.7,341.6 529.9,341.4 530.1,342.0 530.3,342.3 530.5,342.3 530.7,343.2 530.9,342.9 531.1,343.7 531.3,343.2 531.5,344.1 531.7,344.5 531.9,344.2 532.1,344.7 532.3,345.0 532.5,345.9 532.7,345.4 532.9,346.2 533.1,347.0 533.3,346.6 533.5,345.9 533.7,346.9 533.9,347.6 534.1,347.1 534.3,348.0 534.5,347.9 534.7,347.9 534.9,347.7 535.1,347.7 535.3,347.9 535.5,348.2 535.7,348.5 535.9,348.5 536.1,348.3 536.3,348.5 536.5,348.7 536.7,347.8 536.9,348.3 537.1,348.3 537.3,348.6 537.5,348.6 537.7,348.7 537.9,348.4 538.1,349.2 538.3,349.0 538.5,348.1" fill="none" stroke="#0808c4" stroke-width="1.5" stroke-linejoin="round"/>
<polyline points="36.5,334.6 36.7,334.0 36.9,335.4 37.1,334.3 37.3,334.3 37.5,334.5 37.7,334.4 37.9,334.4 38.1,335.2 38.3,334.6 38.5,334.9 38.7,335.0 38.9,333.9 39.1,335.2 39.3,334.7 39.5,334.9 39.7,333.9 39.9,334.8 40.1,334.5 40.3,334.1 40.5,335.5 40.7,334.6 40.9,334.2 41.1,334.4 41.3,334.7 41.5,334.8 41.7,334.5 41.9,334.8 42.1,335.0 42.3,333.6 42.5,334.0 42.7,333.7 42.9,334.2 43.1,334.9 43.3,334.5 43.5,333.6 43.7,334.0 43.9,334.6 44.1,333.8 44.3,334.0 44.5,334.2 44.7,333.1 44.9,334.4 45.1,334.2 45.3,334.3 45.5,333.5 45.7,333.6 45.9,333.7 46.1,334.1 46.3,334.0 46.5,334.0 46.7,334.8 46.9,334.5 47.1,333.5 47.3,333.5 47.5,334.7 47.7,333.7 47.9,334.5 48.1,334.6 48.3,333.5 48.5,333.6 48.7,333.8 48.9,333.3 49.1,333.2 49.3,333.5 49.5,334.1 49.7,333.5 49.9,333.6 50.1,333.4 50.3,332.9 50.5,334.4 50.7,332.4 50.9,333.3 51.1,333.8 51.3,332.8 51.5,333.8 51.7,334.1 51.9,333.1 52.1,333.6 52.3,332.9 52.5,333.7 52.7,333.5 52.9,333.5 53.1,334.1 53.3,333.6 53.5,334.0 53.7,333.6 53.9,332.7 54.1,333.4 54.3,333.5 54.5,332.5 54.7,333.9 54.9,333.2 55.1,333.4 55.3,332.7 55.5,333.2 55.7,333.3 55.9,332.9 56.1,333.1 56.3,332.0 56.5,333.7 56.7,332.4 56.9,331.9 57.1,332.5 57.3,332.5 57.5,333.2 57.7,332.4 57.9,333.0 58.1,332.3 58.3,333.9 58.5,333.0 58.7,333.7 58.9,332.2 59.1,333.0 59.3,332.2 59.5,332.9 59.7,332.9 59.9,331.8 60.1,332.0 60.3,331.9 60.5,331.7 60.7,332.1 60.9,331.9 61.1,331.7 61.3,332.4 61.5,332.6 61.7,331.6 61.9,332.0 62.1,332.2 62.3,332.1 62.5,331.8 62.7,332.5 62.9,332.5 63.1,332.4 63.3,331.9 63.5,333.0 63.7,332.8 63.9,331.7 64.1,331.8 64.3,332.4 64.5,331.4 64.7,332.0 64.9,331.8 65.1,331.3 65.3,331.5 65.5,330.8 65.7,331.3 65.9,330.5 66.1,332.6 66.3,332.2 66.5,332.0 66.7,331.5 66.9,331.8 67.1,331.9 67.3,331.7 67.5,331.6 67.7,330.6 67.9,331.2 68.1,330.7 68.3,330.3 68.5,330.2 68.7,331.0 68.9,331.2 69.1,329.9 69.3,331.4 69.5,331.2 69.7,330.2 69.9,330.1 70.1,330.2 70.3,330.7 70.5,329.9 70.7,329.4 70.9,330.1 71.1,328.8 71.3,329.8 71.5,330.2 71.7,329.7 71.9,329.8 72.1,329.6 72.3,329.6 72.5,329.2 72.7,328.6 72.9,328.7 73.1,328.7 73.3,329.2 73.5,329.3 73.7,328.5 73.9,327.8 74.1,327.6 74.3,327.8 74.5,328.4 74.7,327.7 74.9,327.3 75.1,326.8 75.3,327.4 75.5,326.9 75.7,326.5 75.9,326.4 76.1,327.0 76.3,325.8 76.5,326.5 76.7,326.0 76.9,325.1 77.1,325.3 77.3,324.5 77.5,323.8 77.7,323.8 77.9,323.1 78.1,323.5 78.3,322.8 78.5,322.7 78.7,322.4 78.9,320.0 79.1,321.3 79.3,319.7 79.5,320.2 79.7,319.1 79.9,319.0 80.1,319.0 80.3,316.8 80.5,317.1 80.7,316.2 80.9,314.5 81.1,314.9 81.3,313.7 81.5,312.5 81.7,311.3 81.9,312.2 82.1,309.2 82.3,307.2 82.5,306.3 82.7,305.0 82.9,303.4 83.1,301.8 83.3,299.4 83.5,298.1 83.7,295.4 83.9,292.5 84.1,290.0 84.3,287.3 84.5,284.7 84.7,280.9 84.9,276.6 85.1,272.4 85.3,267.7 85.5,263.2 85.7,255.9 85.9,249.9 86.1,242.6 86.3,233.6 86.5,225.0 86.7,214.8 86.9,203.3 87.1,191.3 87.3,177.9 87.5,163.1 87.7,146.6 87.9,130.0 88.1,113.9 88.3,95.2 88.5,79.8 88.7,65.9 88.9,54.3 89.1,47.1 89.3,43.9 89.5,45.1 89.7,48.3 89.9,52.6 90.1,59.6 90.3,67.8 90.5,77.2 90.7,87.9 90.9,98.6 91.1,111.1 91.3,123.4 91.5,135.2 91.7,146.5 91.9,156.7 92.1,168.8 92.3,178.1 92.5,188.3 92.7,198.6 92.9,206.0 93.1,215.3 93.3,222.7 93.5,229.8 93.7,236.1 93.9,243.0 94.1,248.4 94.3,254.5 94.5,259.5 94.7,262.8 94.9,267.5 95.1,271.4 95.3,274.6 95.5,277.9 95.7,281.5 95.9,284.2 96.1,286.0 96.3,289.0 96.5,291.7 96.7,292.9 96.9,294.9 97.1,297.9 97.3,299.3 97.5,299.4 97.7,300.9 97.9,303.0 98.1,303.5 98.3,305.1 98.5,306.0 98.7,307.5 98.9,306.9 99.1,307.9 99.3,309.2 99.5,311.1 99.7,311.3 99.9,311.2 100.1,312.9 100.3,313.6 100.5,313.7 100.7,314.2 100.9,315.1 101.1,316.0 101.3,315.9 101.5,316.5 101.7,316.6 101.9,316.8 102.1,316.9 102.3,317.8 102.5,317.8 102.7,318.2 102.9,319.0 103.1,319.0 103.3,319.4 103.5,318.4 103.7,319.6 103.9,319.2 104.1,319.3 104.3,319.3 104.5,320.5 104.7,320.3 104.9,319.6 105.1,319.4 105.3,320.0 105.5,319.7 105.7,320.7 105.9,319.1 106.1,318.8 106.3,319.4 106.5,319.4 106.7,319.2 106.9,319.3 107.1,319.6 107.3,318.1 107.5,317.6 107.7,316.6 107.9,317.1 108.1,316.9 108.3,315.7 108.5,315.8 108.7,314.5 108.9,314.6 109.1,313.2 109.3,311.7 109.5,311.1 109.7,309.9 109.9,309.0 110.1,309.2 110.3,308.9 110.5,308.9 110.7,307.4 110.9,307.1 111.1,306.6 111.3,307.7 111.5,307.7 111.7,307.6 111.9,308.9 112.1,309.6 112.3,309.2 112.5,311.4 112.7,312.1 112.9,312.9 113.1,313.8 113.3,315.9 113.5,316.8 113.7,317.8 113.9,317.2 114.1,318.3 114.3,319.9 114.5,319.6 114.7,320.5 114.9,320.6 115.1,323.0 115.3,323.2 115.5,323.4 115.7,323.8 115.9,323.9 116.1,324.4 116.3,325.3 116.5,325.0 116.7,326.3 116.9,325.7 117.1,325.9 117.3,327.2 117.5,326.8 117.7,327.4 117.9,327.1 118.1,326.4 118.3,328.0 118.5,327.3 118.7,328.7 118.9,327.5 119.1,327.5 119.3,328.8 119.5,329.0 119.7,329.0 119.9,328.4 120.1,329.6 120.3,328.6 120.5,329.2 120.7,329.1 120.9,329.5 121.1,330.2 121.3,329.5 121.5,330.2 121.7,330.4 121.9,329.3 122.1,329.6 122.3,330.1 122.5,330.1 122.7,330.6 122.9,329.5 123.1,330.9 123.3,331.0 123.5,330.6 123.7,330.1 123.9,330.8 124.1,330.6 124.3,331.2 124.5,331.0 124.7,331.4 124.9,330.9 125.1,331.9 125.3,330.1 125.5,330.8 125.7,331.6 125.9,330.6 126.1,331.8 126.3,330.8 126.5,331.5 126.7,331.1 126.9,331.3 127.1,331.7 127.3,331.6 127.5,331.5 127.7,332.8 127.9,331.8 128.1,331.3 128.3,332.3 128.5,332.3 128.7,332.5 128.9,332.8 129.1,331.5 129.3,332.5 129.5,332.6 129.7,332.0 129.9,332.2 130.1,330.6 130.3,331.8 130.5,333.0 130.7,331.3 130.9,331.9 131.1,332.4 131.3,332.5 131.5,333.1 131.7,331.4 131.9,332.3 132.1,332.8 132.3,331.7 132.5,332.4 132.7,333.3 132.9,333.1 133.1,332.7 133.3,331.2 133.5,332.4 133.7,332.7 133.9,332.4 134.1,332.5 134.3,334.1 134.5,332.5 134.7,332.1 134.9,332.7 135.1,332.5 135.3,332.5 135.5,332.6 135.7,333.1 135.9,332.8 136.1,332.1 136.3,332.7 136.5,333.0 136.7,332.6 136.9,333.4 137.1,333.2 137.3,332.4 137.5,333.1 137.7,333.9 137.9,333.7 138.1,332.9 138.3,333.4 138.5,332.7 138.7,332.3 138.9,333.3 139.1,333.2 139.3,333.3 139.5,333.1 139.7,333.3 139.9,332.9 140.1,333.4 140.3,333.6 140.5,333.2 140.7,333.6 140.9,332.3 141.1,332.9 141.3,334.0 141.5,334.2 141.7,333.4 141.9,333.3 142.1,332.7 142.3,333.5 142.5,333.8 142.7,332.7 142.9,333.7 143.1,333.7 143.3,333.7 143.5,332.9 143.7,333.7 143.9,332.7 144.1,334.3 144.3,333.6 144.5,333.0 144.7,334.2 144.9,334.1 145.1,333.3 145.3,334.7 145.5,333.1 145.7,333.8 145.9,334.2 146.1,332.5 146.3,334.2 146.5,333.6 146.7,333.7 146.9,333.1 147.1,333.9 147.3,333.2 147.5,333.2 147.7,333.5 147.9,333.1 148.1,334.5 148.3,333.1 148.5,333.4 148.7,333.6 148.9,333.8 149.1,334.2 149.3,334.2 149.5,333.7 149.7,333.6 149.9,333.9 150.1,334.3 150.3,334.2 150.5,333.6 150.7,332.8 150.9,335.0 151.1,334.4 151.3,334.0 151.5,334.1 151.7,333.7 151.9,333.4 152.1,333.8 152.3,333.8 152.5,333.6 152.7,333.2 152.9,333.8 153.1,334.3 153.3,333.7 153.5,334.0 153.7,333.0 153.9,333.9 154.1,334.0 154.3,333.4 154.5,333.2 154.7,334.2 154.9,333.6 155.1,334.3 155.3,333.8 155.5,334.4 155.7,333.9 155.9,333.3 156.1,334.0 156.3,333.9 156.5,334.4 156.7,333.8 156.9,333.8 157.1,334.5 157.3,334.6 157.5,334.4 157.7,334.5 157.9,334.2 158.1,334.4 158.3,334.5 158.5,334.2 158.7,334.0 158.9,334.1 159.1,335.2 159.3,334.0 159.5,333.9 159.7,333.8 159.9,334.0 160.1,334.1 160.3,333.4 160.5,333.0 160.7,334.1 160.9,333.2 161.1,334.1 161.3,334.0 161.5,334.5 161.7,334.8 161.9,334.1 162.1,333.7 162.3,333.4 162.5,333.6 162.7,334.0 162.9,332.9 163.1,334.0 163.3,333.9 163.5,334.3 163.7,333.8 163.9,334.0 164.1,333.5 164.3,333.7 164.5,333.0 164.7,334.0 164.9,334.7 165.1,334.0 165.3,334.1 165.5,333.4 165.7,334.6 165.9,333.5 166.1,334.3 166.3,333.9 166.5,333.4 166.7,334.4 166.9,333.9 167.1,333.9 167.3,334.1 167.5,333.8 167.7,333.6 167.9,334.1 168.1,333.6 168.3,333.8 168.5,333.5 168.7,333.0 168.9,333.5 169.1,333.5 169.3,333.8 169.5,334.4 169.7,332.9 169.9,333.8 170.1,332.6 170.3,333.2 170.5,333.5 170.7,332.6 170.9,332.8 171.1,333.8 171.3,333.8 171.5,333.7 171.7,333.3 171.9,334.8 172.1,333.6 172.3,333.3 172.5,334.5 172.7,334.0 172.9,333.5 173.1,334.3 173.3,333.7 173.5,334.0 173.7,333.8 173.9,333.1 174.1,334.1 174.3,333.7 174.5,333.1 174.7,333.2 174.9,334.1 175.1,333.4 175.3,333.6 175.5,333.9 175.7,333.6 175.9,332.8 176.1,333.9 176.3,334.0 176.5,333.9 176.7,334.3 176.9,333.7 177.1,333.9 177.3,334.3 177.5,333.3 177.7,334.3 177.9,334.3 178.1,333.8 178.3,334.3 178.5,333.8 178.7,332.9 178.9,333.9 179.1,333.5 179.3,333.6 179.5,333.4 179.7,334.0 179.9,333.6 180.1,332.9 180.3,333.5 180.5,333.6 180.7,332.9 180.9,333.0 181.1,333.0 181.3,332.9 181.5,333.4 181.7,333.7 181.9,334.1 182.1,333.7 182.3,333.6 182.5,333.7 182.7,333.7 182.9,332.8 183.1,333.4 183.3,333.2 183.5,332.9 183.7,332.7 183.9,332.7 184.1,332.8 184.3,332.2 184.5,333.1 184.7,332.8 184.9,332.8 185.1,332.9 185.3,333.1 185.5,332.4 185.7,332.6 185.9,331.8 186.1,331.5 186.3,331.6 186.5,333.3 186.7,331.6 186.9,332.7 187.1,333.1 187.3,332.1 187.5,333.1 187.7,333.2 187.9,332.7 188.1,333.3 188.3,332.4 188.5,331.7 188.7,332.2 188.9,331.7 189.1,331.2 189.3,331.1 189.5,332.8 189.7,331.3 189.9,331.5 190.1,331.1 190.3,331.4 190.5,331.1 190.7,330.9 190.9,330.4 191.1,330.2 191.3,330.4 191.5,330.7 191.7,331.5 191.9,330.8 192.1,331.0 192.3,330.1 192.5,329.6 192.7,328.8 192.9,329.2 193.1,327.9 193.3,328.5 193.5,329.2 193.7,328.2 193.9,328.3 194.1,327.1 194.3,326.2 194.5,326.3 194.7,325.9 194.9,326.2 195.1,326.1 195.3,324.2 195.5,323.8 195.7,323.4 195.9,322.8 196.1,321.8 196.3,321.9 196.5,321.6 196.7,321.2 196.9,320.0 197.1,320.3 197.3,319.3 197.5,320.5 197.7,319.5 197.9,320.0 198.1,320.1 198.3,320.2 198.5,320.3 198.7,320.2 198.9,322.3 199.1,321.9 199.3,322.3 199.5,323.5 199.7,322.7 199.9,323.3 200.1,323.2 200.3,324.0 200.5,323.8 200.7,323.8 200.9,323.5 201.1,323.8 201.3,324.2 201.5,322.5 201.7,323.3 201.9,323.0 202.1,322.9 202.3,321.8 202.5,322.9 202.7,321.8 202.9,321.8 203.1,321.3 203.3,320.4 203.5,320.6 203.7,319.5 203.9,319.5 204.1,319.4 204.3,319.2 204.5,318.8 204.7,318.2 204.9,319.0 205.1,317.7 205.3,316.5 205.5,316.4 205.7,316.0 205.9,315.9 206.1,315.4 206.3,315.0 206.5,315.9 206.7,314.9 206.9,314.5 207.1,314.3 207.3,314.1 207.5,314.8 207.7,314.2 207.9,314.4 208.1,312.1 208.3,313.8 208.5,314.0 208.7,314.4 208.9,313.4 209.1,312.4 209.3,313.4 209.5,312.7 209.7,312.0 209.9,312.4 210.1,313.0 210.3,312.9 210.5,312.3 210.7,311.1 210.9,312.4 211.1,310.1 211.3,310.1 211.5,308.7 211.7,309.4 211.9,308.1 212.1,307.3 212.3,305.8 212.5,304.5 212.7,303.3 212.9,300.9 213.1,300.7 213.3,299.0 213.5,296.5 213.7,294.9 213.9,293.1 214.1,291.8 214.3,289.3 214.5,287.2 214.7,285.2 214.9,283.2 215.1,282.3 215.3,281.6 215.5,280.8 215.7,280.6 215.9,280.9 216.1,281.1 216.3,281.7 216.5,282.8 216.7,283.7 216.9,284.8 217.1,286.4 217.3,286.8 217.5,289.7 217.7,289.8 217.9,292.2 218.1,293.0 218.3,294.8 218.5,295.3 218.7,295.8 218.9,297.7 219.1,298.0 219.3,298.7 219.5,299.3 219.7,300.3 219.9,300.7 220.1,300.9 220.3,300.4 220.5,301.3 220.7,301.9 220.9,303.1 221.1,302.7 221.3,302.8 221.5,303.7 221.7,303.4 221.9,303.8 222.1,304.2 222.3,303.8 222.5,305.4 222.7,305.6 222.9,305.7 223.1,305.8 223.3,307.0 223.5,308.2 223.7,307.8 223.9,308.2 224.1,309.6 224.3,309.2 224.5,309.6 224.7,311.1 224.9,311.7 225.1,312.6 225.3,313.2 225.5,314.4 225.7,314.8 225.9,315.3 226.1,316.1 226.3,317.3 226.5,318.2 226.7,318.8 226.9,319.4 227.1,318.0 227.3,319.8 227.5,320.8 227.7,321.6 227.9,321.3 228.1,323.4 228.3,323.3 228.5,323.4 228.7,324.3 228.9,324.5 229.1,324.8 229.3,325.9 229.5,325.8 229.7,325.7 229.9,326.5 230.1,327.1 230.3,327.0 230.5,328.5 230.7,327.6 230.9,329.3 231.1,329.2 231.3,328.5 231.5,329.3 231.7,330.1 231.9,329.6 232.1,329.3 232.3,330.2 232.5,331.3 232.7,329.7 232.9,330.9 233.1,330.8 233.3,330.8 233.5,330.8 233.7,331.0 233.9,331.8 234.1,331.7 234.3,331.0 234.5,332.3 234.7,331.0 234.9,332.1 235.1,331.9 235.3,332.5 235.5,332.1 235.7,332.5 235.9,332.1 236.1,332.6 236.3,332.4 236.5,333.3 236.7,331.9 236.9,332.9 237.1,332.6 237.3,332.5 237.5,332.1 237.7,332.7 237.9,331.8 238.1,331.8 238.3,332.9 238.5,331.8 238.7,333.3 238.9,332.5 239.1,332.7 239.3,332.7 239.5,332.9 239.7,332.5 239.9,332.5 240.1,332.6 240.3,333.2 240.5,333.2 240.7,333.3 240.9,332.8 241.1,332.5 241.3,331.7 241.5,332.9 241.7,333.0 241.9,332.3 242.1,332.9 242.3,333.1 242.5,332.4 242.7,332.8 242.9,332.4 243.1,331.3 243.3,331.9 243.5,331.8 243.7,332.2 243.9,331.4 244.1,331.5 244.3,331.1 244.5,331.5 244.7,331.4 244.9,331.8 245.1,331.5 245.3,331.1 245.5,331.0 245.7,330.8 245.9,330.6 246.1,331.2 246.3,329.0 246.5,330.0 246.7,330.1 246.9,330.3 247.1,329.1 247.3,329.6 247.5,329.7 247.7,328.9 247.9,328.1 248.1,328.7 248.3,328.1 248.5,329.0 248.7,328.1 248.9,329.3 249.1,328.4 249.3,327.9 249.5,328.0 249.7,327.7 249.9,328.4 250.1,329.0 250.3,328.1 250.5,328.8 250.7,327.9 250.9,328.6 251.1,329.7 251.3,328.0 251.5,329.4 251.7,329.5 251.9,328.2 252.1,328.5 252.3,328.9 252.5,330.1 252.7,329.6 252.9,329.9 253.1,330.5 253.3,330.4 253.5,330.6 253.7,330.5 253.9,331.4 254.1,330.6 254.3,332.0 254.5,331.2 254.7,331.1 254.9,332.0 255.1,332.1 255.3,331.0 255.5,332.2 255.7,331.6 255.9,332.0 256.1,332.9 256.3,332.2 256.5,332.9 256.7,332.7 256.9,333.9 257.1,333.0 257.3,332.5 257.5,332.7 257.7,332.8 257.9,333.4 258.1,333.4 258.3,334.0 258.5,333.6 258.7,333.7 258.9,333.8 259.1,333.6 259.3,333.9 259.5,334.2 259.7,334.2 259.9,333.6 260.1,333.0 260.3,333.5 260.5,334.1 260.7,332.7 260.9,333.7 261.1,334.2 261.3,333.7 261.5,333.5 261.7,334.9 261.9,334.8 262.1,333.9 262.3,334.7 262.5,334.7 262.7,333.5 262.9,335.5 263.1,333.7 263.3,334.0 263.5,333.6 263.7,334.2 263.9,333.5 264.1,334.2 264.3,334.7 264.5,334.3 264.7,334.0 264.9,334.9 265.1,333.7 265.3,334.7 265.5,334.0 265.7,334.3 265.9,334.2 266.1,334.3 266.3,334.2 266.5,333.8 266.7,333.9 266.9,334.4 267.1,334.1 267.3,333.6 267.5,333.8 267.7,333.9 267.9,334.2 268.1,334.3 268.3,334.2 268.5,333.9 268.7,334.2 268.9,333.5 269.1,332.8 269.3,334.2 269.5,333.4 269.7,333.7 269.9,333.6 270.1,334.5 270.3,333.6 270.5,334.3 270.7,333.9 270.9,333.6 271.1,333.4 271.3,334.4 271.5,334.4 271.7,334.6 271.9,335.1 272.1,334.3 272.3,334.3 272.5,334.1 272.7,334.2 272.9,334.0 273.1,333.7 273.3,335.1 273.5,333.2 273.7,334.3 273.9,334.4 274.1,334.2 274.3,333.6 274.5,334.0 274.7,333.9 274.9,333.6 275.1,334.1 275.3,333.9 275.5,333.8 275.7,334.4 275.9,333.5 276.1,334.3 276.3,333.7 276.5,334.2 276.7,334.0 276.9,334.1 277.1,333.4 277.3,333.5 277.5,333.4 277.7,333.8 277.9,334.0 278.1,334.1 278.3,333.2 278.5,333.4 278.7,332.4 278.9,332.0 279.1,332.6 279.3,332.7 279.5,332.2 279.7,332.0 279.9,333.2 280.1,332.6 280.3,332.2 280.5,334.2 280.7,333.3 280.9,333.1 281.1,333.7 281.3,333.1 281.5,334.3 281.7,332.8 281.9,333.0 282.1,333.6 282.3,333.3 282.5,334.5 282.7,333.0 282.9,333.4 283.1,333.9 283.3,334.1 283.5,334.3 283.7,334.0 283.9,334.9 284.1,333.5 284.3,333.9 284.5,334.2 284.7,333.6 284.9,333.6 285.1,333.5 285.3,333.4 285.5,333.2 285.7,333.4 285.9,332.9 286.1,333.9 286.3,332.9 286.5,334.7 286.7,334.5 286.9,334.2 287.1,333.5 287.3,333.3 287.5,334.2 287.7,333.7 287.9,333.8 288.1,333.2 288.3,334.1 288.5,333.1 288.7,333.6 288.9,332.6 289.1,333.1 289.3,333.7 289.5,333.2 289.7,333.2 289.9,333.8 290.1,333.4 290.3,334.0 290.5,332.2 290.7,333.6 290.9,333.6 291.1,332.5 291.3,332.6 291.5,333.7 291.7,332.7 291.9,332.9 292.1,333.5 292.3,333.0 292.5,333.4 292.7,332.7 292.9,333.3 293.1,333.7 293.3,333.3 293.5,332.0 293.7,333.4 293.9,333.0 294.1,332.5 294.3,333.7 294.5,332.1 294.7,333.8 294.9,332.6 295.1,333.6 295.3,332.8 295.5,332.1 295.7,332.8 295.9,332.9 296.1,333.0 296.3,333.2 296.5,332.2 296.7,332.9 296.9,332.9 297.1,332.4 297.3,332.0 297.5,332.0 297.7,332.8 297.9,332.8 298.1,331.9 298.3,331.6 298.5,332.9 298.7,331.4 298.9,332.2 299.1,331.7 299.3,331.2 299.5,332.1 299.7,331.9 299.9,332.6 300.1,333.0 300.3,331.7 300.5,332.2 300.7,332.2 300.9,331.3 301.1,331.1 301.3,332.2 301.5,331.2 301.7,331.3 301.9,331.1 302.1,331.1 302.3,330.8 302.5,331.3 302.7,331.5 302.9,330.6 303.1,330.0 303.3,330.6 303.5,329.8 303.7,330.1 303.9,330.9 304.1,331.3 304.3,330.2 304.5,329.4 304.7,330.2 304.9,328.5 305.1,329.2 305.3,330.1 305.5,329.6 305.7,328.4 305.9,328.1 306.1,329.1 306.3,328.5 306.5,328.1 306.7,328.4 306.9,327.7 307.1,326.8 307.3,327.9 307.5,326.9 307.7,326.5 307.9,326.1 308.1,326.6 308.3,325.8 308.5,326.2 308.7,325.4 308.9,325.7 309.1,324.6 309.3,324.1 309.5,323.1 309.7,323.1 309.9,323.5 310.1,324.2 310.3,321.6 310.5,321.1 310.7,321.2 310.9,320.7 311.1,319.5 311.3,319.1 311.5,317.6 311.7,317.4 311.9,317.2 312.1,316.7 312.3,314.8 312.5,313.8 312.7,313.0 312.9,312.2 313.1,310.7 313.3,308.7 313.5,307.9 313.7,306.7 313.9,304.3 314.1,302.3 314.3,301.4 314.5,299.4 314.7,297.7 314.9,295.2 315.1,292.6 315.3,290.4 315.5,287.8 315.7,285.4 315.9,283.1 316.1,280.6 316.3,278.9 316.5,275.3 316.7,273.5 316.9,271.0 317.1,269.9 317.3,267.5 317.5,265.7 317.7,265.1 317.9,263.9 318.1,263.2 318.3,264.2 318.5,264.2 318.7,265.5 318.9,266.4 319.1,267.8 319.3,269.3 319.5,270.7 319.7,273.9 319.9,275.9 320.1,278.7 320.3,280.8 320.5,283.0 320.7,285.4 320.9,288.6 321.1,291.3 321.3,292.8 321.5,295.4 321.7,297.9 321.9,298.8 322.1,301.0 322.3,302.4 322.5,305.2 322.7,306.3 322.9,307.4 323.1,308.2 323.3,310.3 323.5,312.1 323.7,312.6 323.9,313.6 324.1,315.2 324.3,315.2 324.5,316.7 324.7,317.8 324.9,317.9 325.1,318.6 325.3,319.9 325.5,320.3 325.7,320.9 325.9,321.7 326.1,322.2 326.3,322.2 326.5,322.8 326.7,323.8 326.9,324.5 327.1,325.0 327.3,324.3 327.5,325.7 327.7,325.8 327.9,325.8 328.1,326.3 328.3,326.8 328.5,327.5 328.7,326.4 328.9,327.5 329.1,327.3 329.3,327.5 329.5,328.4 329.7,328.4 329.9,327.7 330.1,328.3 330.3,328.7 330.5,328.1 330.7,329.4 330.9,329.1 331.1,329.3 331.3,329.6 331.5,330.4 331.7,329.7 331.9,329.6 332.1,330.8 332.3,329.8 332.5,329.9 332.7,329.6 332.9,330.9 333.1,330.6 333.3,330.8 333.5,330.7 333.7,330.7 333.9,330.4 334.1,330.5 334.3,331.2 334.5,331.1 334.7,331.9 334.9,330.8 335.1,331.0 335.3,330.8 335.5,332.1 335.7,330.8 335.9,331.9 336.1,332.3 336.3,331.6 336.5,332.0 336.7,330.7 336.9,331.6 337.1,331.0 337.3,332.0 337.5,331.9 337.7,331.6 337.9,332.5 338.1,332.2 338.3,331.8 338.5,331.9 338.7,331.4 338.9,332.1 339.1,333.3 339.3,331.9 339.5,332.5 339.7,332.1 339.9,332.8 340.1,332.6 340.3,332.3 340.5,331.6 340.7,332.2 340.9,333.1 341.1,332.4 341.3,332.9 341.5,332.3 341.7,331.7 341.9,332.8 342.1,332.8 342.3,332.4 342.5,332.5 342.7,332.9 342.9,332.4 343.1,332.9 343.3,332.7 343.5,331.6 343.7,332.7 343.9,332.5 344.1,332.4 344.3,333.0 344.5,332.6 344.7,333.1 344.9,333.4 345.1,333.0 345.3,332.1 345.5,332.6 345.7,333.4 345.9,332.8 346.1,332.5 346.3,332.9 346.5,333.2 346.7,333.1 346.9,333.3 347.1,332.6 347.3,332.9 347.5,332.9 347.7,333.0 347.9,332.0 348.1,332.9 348.3,332.4 348.5,333.7 348.7,333.8 348.9,333.9 349.1,333.4 349.3,332.8 349.5,333.5 349.7,333.0 349.9,333.4 350.1,332.6 350.3,332.8 350.5,333.3 350.7,333.9 350.9,333.0 351.1,334.2 351.3,334.4 351.5,332.4 351.7,333.0 351.9,332.6 352.1,333.0 352.3,332.8 352.5,333.0 352.7,333.5 352.9,333.5 353.1,333.2 353.3,333.0 353.5,333.1 353.7,333.1 353.9,333.3 354.1,333.0 354.3,333.3 354.5,332.4 354.7,333.4 354.9,333.9 355.1,333.1 355.3,332.3 355.5,333.6 355.7,332.8 355.9,331.5 356.1,332.8 356.3,333.2 356.5,333.1 356.7,333.5 356.9,333.2 357.1,332.9 357.3,331.9 357.5,332.3 357.7,332.9 357.9,333.2 358.1,332.3 358.3,332.5 358.5,333.0 358.7,331.8 358.9,331.8 359.1,332.6 359.3,332.8 359.5,332.5 359.7,331.5 359.9,332.7 360.1,332.0 360.3,332.9 360.5,332.5 360.7,332.7 360.9,332.9 361.1,332.3 361.3,332.9 361.5,333.1 361.7,332.6 361.9,333.1 362.1,332.0 362.3,332.8 362.5,332.4 362.7,331.8 362.9,332.2 363.1,331.9 363.3,331.8 363.5,332.1 363.7,332.5 363.9,331.8 364.1,332.0 364.3,331.1 364.5,331.8 364.7,332.3 364.9,332.0 365.1,331.8 365.3,331.2 365.5,330.8 365.7,331.2 365.9,330.4 366.1,330.4 366.3,331.3 366.5,330.2 366.7,331.4 366.9,329.7 367.1,330.4 367.3,329.4 367.5,329.8 367.7,329.0 367.9,329.3 368.1,328.9 368.3,328.5 368.5,328.6 368.7,328.8 368.9,327.4 369.1,327.7 369.3,326.9 369.5,326.4 369.7,327.0 369.9,324.4 370.1,324.6 370.3,323.4 370.5,323.6 370.7,323.0 370.9,324.3 371.1,321.9 371.3,321.9 371.5,320.8 371.7,319.2 371.9,318.8 372.1,318.5 372.3,316.8 372.5,315.9 372.7,315.1 372.9,313.1 373.1,312.4 373.3,311.9 373.5,310.9 373.7,309.1 373.9,308.2 374.1,307.2 374.3,306.0 374.5,305.3 374.7,303.8 374.9,302.7 375.1,300.7 375.3,299.8 375.5,299.3 375.7,297.2 375.9,297.1 376.1,295.5 376.3,294.4 376.5,294.2 376.7,292.6 376.9,291.6 377.1,290.8 377.3,290.4 377.5,291.1 377.7,288.0 377.9,288.5 378.1,287.9 378.3,288.1 378.5,287.2 378.7,285.9 378.9,287.6 379.1,286.4 379.3,286.9 379.5,286.4 379.7,286.7 379.9,287.2 380.1,288.2 380.3,288.5 380.5,288.3 380.7,289.3 380.9,289.3 381.1,290.1 381.3,290.7 381.5,291.5 381.7,291.5 381.9,292.3 382.1,293.1 382.3,293.6 382.5,293.7 382.7,295.5 382.9,295.0 383.1,296.0 383.3,296.2 383.5,297.1 383.7,295.7 383.9,298.1 384.1,297.2 384.3,296.8 384.5,297.5 384.7,298.6 384.9,297.6 385.1,296.5 385.3,296.6 385.5,297.2 385.7,295.4 385.9,295.4 386.1,294.8 386.3,295.3 386.5,293.4 386.7,293.4 386.9,291.6 387.1,290.7 387.3,290.7 387.5,289.7 387.7,287.8 387.9,288.3 388.1,287.8 388.3,286.7 388.5,286.9 388.7,286.8 388.9,286.5 389.1,286.7 389.3,287.1 389.5,288.0 389.7,288.3 389.9,290.0 390.1,290.4 390.3,292.5 390.5,293.8 390.7,294.8 390.9,297.2 391.1,299.3 391.3,300.5 391.5,300.7 391.7,303.5 391.9,304.4 392.1,305.7 392.3,306.8 392.5,308.4 392.7,310.4 392.9,311.2 393.1,311.8 393.3,312.8 393.5,313.9 393.7,315.4 393.9,316.9 394.1,316.4 394.3,317.7 394.5,318.3 394.7,318.8 394.9,320.1 395.1,320.8 395.3,320.4 395.5,321.1 395.7,322.8 395.9,322.8 396.1,323.4 396.3,323.4 396.5,323.8 396.7,324.6 396.9,324.5 397.1,324.6 397.3,325.4 397.5,326.2 397.7,325.5 397.9,326.8 398.1,326.8 398.3,326.3 398.5,326.9 398.7,327.1 398.9,327.6 399.1,327.7 399.3,326.9 399.5,327.0 399.7,328.3 399.9,327.9 400.1,328.1 400.3,328.2 400.5,328.8 400.7,327.5 400.9,328.6 401.1,327.7 401.3,328.5 401.5,328.8 401.7,327.4 401.9,328.3 402.1,327.9 402.3,327.9 402.5,328.1 402.7,327.6 402.9,327.6 403.1,328.4 403.3,328.6 403.5,327.9 403.7,327.5 403.9,329.5 404.1,329.0 404.3,328.7 404.5,328.2 404.7,328.6 404.9,329.1 405.1,328.7 405.3,330.1 405.5,329.6 405.7,329.9 405.9,329.4 406.1,329.6 406.3,329.9 406.5,330.6 406.7,330.5 406.9,330.7 407.1,331.1 407.3,331.2 407.5,332.0 407.7,331.3 407.9,331.0 408.1,331.7 408.3,332.5 408.5,331.6 408.7,332.0 408.9,331.9 409.1,332.4 409.3,332.4 409.5,332.0 409.7,332.3 409.9,333.0 410.1,333.1 410.3,333.1 410.5,333.1 410.7,332.6 410.9,332.6 411.1,333.3 411.3,332.3 411.5,332.9 411.7,332.0 411.9,332.8 412.1,332.7 412.3,332.5 412.5,333.4 412.7,332.7 412.9,333.0 413.1,333.0 413.3,332.8 413.5,333.9 413.7,333.0 413.9,333.4 414.1,332.6 414.3,333.1 414.5,333.2 414.7,333.2 414.9,333.1 415.1,333.5 415.3,334.2 415.5,333.4 415.7,333.4 415.9,333.3 416.1,334.7 416.3,334.3 416.5,333.8 416.7,333.9 416.9,333.2 417.1,333.5 417.3,333.7 417.5,333.6 417.7,333.2 417.9,333.2 418.1,333.9 418.3,333.8 418.5,332.6 418.7,333.7 418.9,334.3 419.1,333.4 419.3,333.8 419.5,333.0 419.7,334.1 419.9,333.2 420.1,333.1 420.3,333.6 420.5,334.9 420.7,333.5 420.9,333.2 421.1,334.0 421.3,333.9 421.5,334.6 421.7,333.2 421.9,333.0 422.1,333.7 422.3,334.0 422.5,334.0 422.7,334.4 422.9,333.1 423.1,333.5 423.3,333.8 423.5,334.3 423.7,334.1 423.9,333.7 424.1,333.4 424.3,334.3 424.5,334.4 424.7,335.2 424.9,333.8 425.1,334.7 425.3,333.3 425.5,333.7 425.7,333.6 425.9,333.7 426.1,333.5 426.3,333.7 426.5,333.9 426.7,333.7 426.9,334.3 427.1,333.9 427.3,334.0 427.5,334.7 427.7,334.1 427.9,334.0 428.1,333.9 428.3,334.0 428.5,334.2 428.7,333.6 428.9,334.5 429.1,334.7 429.3,334.5 429.5,333.7 429.7,333.2 429.9,333.8 430.1,334.0 430.3,334.4 430.5,333.9 430.7,333.8 430.9,334.7 431.1,333.6 431.3,334.5 431.5,334.4 431.7,333.3 431.9,334.1 432.1,333.7 432.3,333.5 432.5,333.0 432.7,333.2 432.9,334.1 433.1,333.7 433.3,334.0 433.5,333.4 433.7,333.7 433.9,333.8 434.1,333.1 434.3,333.1 434.5,334.1 434.7,333.9 434.9,333.4 435.1,333.8 435.3,334.2 435.5,334.7 435.7,333.4 435.9,334.1 436.1,334.9 436.3,333.8 436.5,334.5 436.7,332.5 436.9,334.5 437.1,333.8 437.3,332.8 437.5,334.1 437.7,334.3 437.9,334.3 438.1,334.3 438.3,333.7 438.5,333.3 438.7,333.5 438.9,333.7 439.1,333.9 439.3,333.4 439.5,333.7 439.7,334.1 439.9,333.8 440.1,334.7 440.3,334.6 440.5,333.0 440.7,333.3 440.9,332.9 441.1,333.0 441.3,333.8 441.5,333.0 441.7,333.0 441.9,333.3 442.1,333.8 442.3,333.2 442.5,333.2 442.7,333.8 442.9,333.6 443.1,333.6 443.3,333.8 443.5,332.8 443.7,333.4 443.9,332.9 444.1,333.7 444.3,333.6 444.5,332.6 444.7,333.8 444.9,332.5 445.1,333.6 445.3,333.1 445.5,332.6 445.7,332.4 445.9,332.8 446.1,332.9 446.3,332.5 446.5,333.1 446.7,332.1 446.9,332.8 447.1,332.7 447.3,331.8 447.5,332.8 447.7,332.0 447.9,331.3 448.1,332.2 448.3,332.4 448.5,332.9 448.7,332.1 448.9,333.0 449.1,333.0 449.3,332.7 449.5,332.8 449.7,332.2 449.9,331.7 450.1,332.3 450.3,332.3 450.5,331.9 450.7,331.6 450.9,330.9 451.1,331.9 451.3,331.6 451.5,330.7 451.7,331.3 451.9,331.5 452.1,331.0 452.3,331.3 452.5,331.2 452.7,330.0 452.9,330.4 453.1,330.7 453.3,330.8 453.5,330.8 453.7,329.0 453.9,329.8 454.1,330.0 454.3,330.1 454.5,330.1 454.7,328.6 454.9,328.7 455.1,328.1 455.3,328.8 455.5,327.5 455.7,328.5 455.9,328.1 456.1,327.6 456.3,326.0 456.5,326.5 456.7,326.9 456.9,325.5 457.1,325.7 457.3,325.4 457.5,325.5 457.7,324.8 457.9,324.4 458.1,323.7 458.3,323.4 458.5,322.9 458.7,322.9 458.9,321.9 459.1,322.0 459.3,320.2 459.5,321.1 459.7,319.8 459.9,319.9 460.1,318.8 460.3,318.6 460.5,318.3 460.7,316.7 460.9,316.3 461.1,315.6 461.3,315.1 461.5,313.5 461.7,313.5 461.9,312.8 462.1,311.9 462.3,311.5 462.5,310.1 462.7,310.9 462.9,309.7 463.1,309.8 463.3,307.7 463.5,306.9 463.7,307.0 463.9,305.5 464.1,305.9 464.3,304.9 464.5,304.6 464.7,304.4 464.9,303.9 465.1,304.4 465.3,303.5 465.5,302.3 465.7,303.3 465.9,302.0 466.1,302.7 466.3,302.0 466.5,302.3 466.7,303.5 466.9,302.8 467.1,303.0 467.3,303.3 467.5,303.8 467.7,305.1 467.9,304.2 468.1,304.7 468.3,306.2 468.5,305.6 468.7,306.9 468.9,308.2 469.1,308.3 469.3,308.7 469.5,309.3 469.7,309.9 469.9,310.7 470.1,311.7 470.3,313.0 470.5,313.5 470.7,313.5 470.9,314.0 471.1,315.4 471.3,314.8 471.5,316.2 471.7,316.8 471.9,317.1 472.1,317.7 472.3,319.0 472.5,318.6 472.7,319.5 472.9,320.2 473.1,321.1 473.3,320.8 473.5,322.6 473.7,322.3 473.9,322.8 474.1,323.2 474.3,323.5 474.5,323.7 474.7,325.2 474.9,325.1 475.1,325.3 475.3,326.2 475.5,325.7 475.7,326.6 475.9,326.6 476.1,326.5 476.3,327.5 476.5,326.7 476.7,328.0 476.9,327.4 477.1,328.3 477.3,328.9 477.5,328.7 477.7,328.3 477.9,328.8 478.1,328.7 478.3,328.5 478.5,328.6 478.7,329.3 478.9,329.7 479.1,328.6 479.3,329.5 479.5,329.9 479.7,329.8 479.9,329.3 480.1,330.4 480.3,329.3 480.5,330.3 480.7,330.9 480.9,329.1 481.1,330.3 481.3,330.4 481.5,330.5 481.7,330.1 481.9,330.4 482.1,329.9 482.3,330.8 482.5,331.1 482.7,330.6 482.9,330.6 483.1,330.9 483.3,331.2 483.5,331.4 483.7,331.4 483.9,331.6 484.1,331.0 484.3,330.4 484.5,332.2 484.7,332.6 484.9,331.3 485.1,331.8 485.3,332.3 485.5,332.7 485.7,332.7 485.9,333.0 486.1,332.5 486.3,332.7 486.5,332.8 486.7,332.4 486.9,333.3 487.1,333.1 487.3,333.3 487.5,332.7 487.7,333.4 487.9,332.4 488.1,333.2 488.3,331.7 488.5,332.5 488.7,333.4 488.9,332.9 489.1,333.2 489.3,332.4 489.5,333.9 489.7,333.5 489.9,333.2 490.1,333.5 490.3,333.4 490.5,334.0 490.7,333.4 490.9,332.6 491.1,333.2 491.3,334.0 491.5,333.7 491.7,333.2 491.9,333.7 492.1,333.5 492.3,333.8 492.5,332.7 492.7,333.1 492.9,333.9 493.1,333.4 493.3,333.7 493.5,334.5 493.7,333.4 493.9,333.7 494.1,333.3 494.3,333.3 494.5,333.6 494.7,332.9 494.9,332.6 495.1,334.3 495.3,333.6 495.5,334.2 495.7,333.8 495.9,333.8 496.1,334.1 496.3,334.1 496.5,333.2 496.7,334.4 496.9,333.3 497.1,333.9 497.3,335.0 497.5,333.8 497.7,334.6 497.9,333.6 498.1,334.1 498.3,333.9 498.5,334.0 498.7,333.4 498.9,333.4 499.1,334.0 499.3,333.1 499.5,333.5 499.7,334.2 499.9,333.6 500.1,333.5 500.3,333.4 500.5,334.0 500.7,333.7 500.9,334.0 501.1,333.8 501.3,334.8 501.5,333.7 501.7,333.0 501.9,334.0 502.1,333.9 502.3,334.0 502.5,333.1 502.7,334.5 502.9,333.9 503.1,333.9 503.3,333.2 503.5,334.2 503.7,333.9 503.9,334.6 504.1,333.7 504.3,333.3 504.5,334.0 504.7,333.5 504.9,334.1 505.1,333.4 505.3,333.9 505.5,333.8 505.7,333.9 505.9,333.7 506.1,333.5 506.3,333.9 506.5,333.6 506.7,334.0 506.9,333.8 507.1,332.8 507.3,333.9 507.5,334.6 507.7,334.1 507.9,334.2 508.1,334.1 508.3,333.7 508.5,333.3 508.7,334.3 508.9,334.4 509.1,334.2 509.3,334.1 509.5,334.1 509.7,333.9 509.9,334.0 510.1,333.9 510.3,334.0 510.5,333.4 510.7,333.6 510.9,334.1 511.1,333.7 511.3,332.7 511.5,333.9 511.7,332.7 511.9,334.8 512.1,334.2 512.3,334.2 512.5,333.5 512.7,333.3 512.9,333.7 513.1,333.8 513.3,333.4 513.5,333.9 513.7,334.1 513.9,334.1 514.1,333.3 514.3,332.7 514.5,333.7 514.7,333.4 514.9,333.9 515.1,334.5 515.3,334.5 515.5,333.8 515.7,334.2 515.9,334.4 516.1,333.6 516.3,333.7 516.5,334.0 516.7,333.5 516.9,333.3 517.1,333.1 517.3,333.4 517.5,333.1 517.7,333.7 517.9,333.1 518.1,333.9 518.3,333.7 518.5,332.5 518.7,333.5 518.9,332.8 519.1,333.5 519.3,333.0 519.5,332.6 519.7,332.9 519.9,332.1 520.1,332.4 520.3,332.3 520.5,331.9 520.7,332.0 520.9,331.1 521.1,331.7 521.3,330.6 521.5,331.3 521.7,330.9 521.9,330.8 522.1,329.9 522.3,331.4 522.5,329.5 522.7,329.4 522.9,328.6 523.1,329.3 523.3,328.1 523.5,328.4 523.7,327.2 523.9,327.4 524.1,326.7 524.3,327.0 524.5,326.0 524.7,325.4 524.9,325.7 525.1,324.6 525.3,324.3 525.5,324.9 525.7,323.3 525.9,324.3 526.1,323.5 526.3,323.0 526.5,323.4 526.7,323.5 526.9,322.8 527.1,322.9 527.3,323.3 527.5,323.3 527.7,323.0 527.9,322.8 528.1,322.8 528.3,323.2 528.5,324.0 528.7,324.2 528.9,324.3 529.1,325.1 529.3,324.6 529.5,324.9 529.7,325.2 529.9,326.6 530.1,325.1 530.3,326.6 530.5,327.0 530.7,327.2 530.9,328.6 531.1,328.4 531.3,328.6 531.5,328.1 531.7,329.1 531.9,329.0 532.1,329.5 532.3,329.9 532.5,329.8 532.7,330.6 532.9,331.4 533.1,331.3 533.3,331.2 533.5,330.4 533.7,332.0 533.9,332.2 534.1,331.7 534.3,331.8 534.5,332.4 534.7,331.9 534.9,332.8 535.1,332.0 535.3,332.2 535.5,332.7 535.7,332.1 535.9,332.9 536.1,333.2 536.3,332.4 536.5,333.5 536.7,332.8 536.9,333.4 537.1,333.3 537.3,333.0 537.5,333.0 537.7,332.5 537.9,333.0 538.1,333.0 538.3,334.1 538.5,333.9" fill="none" stroke="#18d818" stroke-width="1.5" stroke-linejoin="round"/>
<polyline points="36.5,355.8 36.7,356.9 36.9,356.7 37.1,356.4 37.3,356.8 37.5,357.0 37.7,356.4 37.9,356.6 38.1,356.8 38.3,356.3 38.5,356.9 38.7,356.8 38.9,356.6 39.1,356.5 39.3,357.1 39.5,357.4 39.7,357.2 39.9,356.7 40.1,357.4 40.3,357.2 40.5,357.4 40.7,357.7 40.9,356.8 41.1,357.2 41.3,357.0 41.5,356.9 41.7,358.3 41.9,357.8 42.1,356.6 42.3,357.7 42.5,357.2 42.7,358.1 42.9,357.6 43.1,357.5 43.3,357.7 43.5,357.8 43.7,357.7 43.9,357.6 44.1,357.7 44.3,358.0 44.5,357.3 44.7,357.9 44.9,357.8 45.1,357.7 45.3,358.3 45.5,357.4 45.7,357.8 45.9,357.6 46.1,358.3 46.3,357.9 46.5,358.2 46.7,358.3 46.9,357.4 47.1,358.4 47.3,357.9 47.5,358.2 47.7,358.3 47.9,358.7 48.1,358.7 48.3,359.2 48.5,358.5 48.7,358.2 48.9,358.3 49.1,358.8 49.3,359.3 49.5,358.7 49.7,358.3 49.9,358.8 50.1,358.8 50.3,358.7 50.5,358.3 50.7,357.5 50.9,358.5 51.1,359.2 51.3,358.8 51.5,357.7 51.7,358.8 51.9,357.9 52.1,359.7 52.3,358.9 52.5,358.2 52.7,359.2 52.9,358.4 53.1,359.1 53.3,358.8 53.5,358.3 53.7,359.2 53.9,358.2 54.1,359.5 54.3,358.9 54.5,358.4 54.7,358.0 54.9,359.6 55.1,359.6 55.3,358.3 55.5,359.7 55.7,359.0 55.9,358.8 56.1,358.9 56.3,358.8 56.5,359.6 56.7,359.0 56.9,358.1 57.1,359.9 57.3,359.4 57.5,358.4 57.7,358.8 57.9,358.5 58.1,359.0 58.3,359.1 58.5,359.1 58.7,358.7 58.9,358.6 59.1,359.4 59.3,358.9 59.5,360.0 59.7,358.6 59.9,359.3 60.1,359.0 60.3,358.6 60.5,359.6 60.7,359.0 60.9,358.5 61.1,358.8 61.3,359.4 61.5,358.3 61.7,359.5 61.9,359.2 62.1,358.7 62.3,359.5 62.5,359.6 62.7,359.1 62.9,358.9 63.1,359.6 63.3,359.4 63.5,358.3 63.7,358.6 63.9,358.5 64.1,358.4 64.3,357.9 64.5,359.0 64.7,358.6 64.9,358.5 65.1,359.1 65.3,358.2 65.5,358.4 65.7,358.5 65.9,358.1 66.1,358.2 66.3,358.6 66.5,358.2 66.7,358.8 66.9,357.7 67.1,358.1 67.3,357.3 67.5,357.9 67.7,357.6 67.9,358.5 68.1,358.1 68.3,357.9 68.5,358.5 68.7,358.3 68.9,357.9 69.1,357.1 69.3,356.7 69.5,357.3 69.7,357.1 69.9,356.8 70.1,356.9 70.3,356.2 70.5,357.6 70.7,356.3 70.9,356.4 71.1,356.9 71.3,355.8 71.5,356.9 71.7,356.8 71.9,356.1 72.1,355.6 72.3,355.7 72.5,355.0 72.7,356.4 72.9,355.6 73.1,355.1 73.3,354.9 73.5,355.4 73.7,355.7 73.9,354.2 74.1,354.4 74.3,353.6 74.5,354.6 74.7,354.2 74.9,355.0 75.1,353.6 75.3,353.2 75.5,352.9 75.7,353.4 75.9,351.9 76.1,352.8 76.3,352.3 76.5,351.6 76.7,351.1 76.9,351.7 77.1,351.8 77.3,350.3 77.5,350.4 77.7,350.6 77.9,349.1 78.1,348.8 78.3,347.9 78.5,347.9 78.7,347.5 78.9,346.8 79.1,346.1 79.3,345.1 79.5,344.6 79.7,344.1 79.9,344.2 80.1,342.9 80.3,342.0 80.5,341.9 80.7,340.9 80.9,339.4 81.1,338.4 81.3,338.0 81.5,336.7 81.7,334.9 81.9,334.1 82.1,332.6 82.3,331.6 82.5,329.0 82.7,328.1 82.9,325.9 83.1,323.1 83.3,321.8 83.5,319.3 83.7,315.5 83.9,314.0 84.1,309.3 84.3,305.7 84.5,302.0 84.7,298.1 84.9,293.2 85.1,287.5 85.3,282.3 85.5,275.3 85.7,268.6 85.9,261.3 86.1,251.4 86.3,240.6 86.5,231.3 86.7,219.8 86.9,208.2 87.1,195.2 87.3,180.8 87.5,166.2 87.7,151.5 87.9,136.0 88.1,119.3 88.3,106.0 88.5,91.4 88.7,78.9 88.9,68.7 89.1,60.6 89.3,56.8 89.5,56.5 89.7,58.1 89.9,61.3 90.1,66.1 90.3,72.7 90.5,82.0 90.7,91.1 90.9,101.0 91.1,111.3 91.3,123.5 91.5,134.8 91.7,148.4 91.9,159.8 92.1,171.2 92.3,183.0 92.5,195.6 92.7,205.7 92.9,214.9 93.1,225.4 93.3,234.2 93.5,242.9 93.7,252.2 93.9,261.1 94.1,268.0 94.3,274.0 94.5,280.1 94.7,286.3 94.9,292.0 95.1,295.8 95.3,300.1 95.5,306.1 95.7,309.1 95.9,313.2 96.1,315.7 96.3,319.2 96.5,320.8 96.7,323.7 96.9,326.4 97.1,328.1 97.3,329.2 97.5,331.5 97.7,332.2 97.9,333.2 98.1,335.4 98.3,337.0 98.5,337.8 98.7,337.8 98.9,339.7 99.1,340.5 99.3,340.7 99.5,340.4 99.7,342.8 99.9,343.3 100.1,343.7 100.3,343.2 100.5,343.8 100.7,345.5 100.9,345.8 101.1,346.1 101.3,346.1 101.5,346.7 101.7,346.6 101.9,347.0 102.1,347.0 102.3,347.8 102.5,347.7 102.7,348.5 102.9,348.6 103.1,348.0 103.3,349.4 103.5,348.1 103.7,349.0 103.9,349.3 104.1,349.5 104.3,347.8 104.5,349.4 104.7,349.5 104.9,349.6 105.1,347.7 105.3,348.4 105.5,348.6 105.7,348.3 105.9,349.1 106.1,348.0 106.3,348.8 106.5,348.3 106.7,347.1 106.9,347.2 107.1,347.2 107.3,347.3 107.5,347.5 107.7,346.7 107.9,347.1 108.1,345.6 108.3,344.6 108.5,345.8 108.7,345.9 108.9,345.3 109.1,344.8 109.3,345.3 109.5,345.9 109.7,344.7 109.9,344.3 110.1,344.1 110.3,345.5 110.5,344.4 110.7,344.7 110.9,345.1 111.1,345.0 111.3,344.1 111.5,345.2 111.7,345.3 111.9,345.4 112.1,345.9 112.3,345.3 112.5,345.9 112.7,346.0 112.9,347.0 113.1,346.6 113.3,347.5 113.5,347.1 113.7,348.0 113.9,348.3 114.1,348.8 114.3,349.4 114.5,349.6 114.7,350.0 114.9,349.5 115.1,351.5 115.3,351.0 115.5,351.6 115.7,351.7 115.9,353.0 116.1,352.4 116.3,353.5 116.5,354.1 116.7,354.7 116.9,354.8 117.1,354.8 117.3,354.2 117.5,355.7 117.7,356.0 117.9,356.1 118.1,356.3 118.3,356.2 118.5,356.1 118.7,357.1 118.9,357.4 119.1,356.5 119.3,357.7 119.5,357.5 119.7,358.0 119.9,357.9 120.1,358.4 120.3,358.5 120.5,358.6 120.7,357.6 120.9,358.8 121.1,358.5 121.3,358.0 121.5,359.0 121.7,358.1 121.9,359.3 122.1,359.8 122.3,358.8 122.5,359.6 122.7,359.4 122.9,359.6 123.1,358.6 123.3,359.7 123.5,359.5 123.7,359.8 123.9,359.5 124.1,360.1 124.3,359.8 124.5,360.0 124.7,360.4 124.9,359.8 125.1,360.3 125.3,359.9 125.5,360.1 125.7,359.6 125.9,360.3 126.1,360.6 126.3,359.9 126.5,360.4 126.7,360.3 126.9,359.5 127.1,360.3 127.3,360.8 127.5,359.9 127.7,359.3 127.9,360.3 128.1,359.9 128.3,361.2 128.5,360.2 128.7,360.2 128.9,360.0 129.1,360.4 129.3,360.0 129.5,359.9 129.7,360.3 129.9,359.9 130.1,361.0 130.3,359.8 130.5,360.3 130.7,360.1 130.9,359.7 131.1,361.2 131.3,359.4 131.5,361.2 131.7,359.8 131.9,360.5 132.1,361.6 132.3,359.4 132.5,359.8 132.7,361.1 132.9,360.6 133.1,360.2 133.3,360.5 133.5,360.0 133.7,360.6 133.9,361.3 134.1,360.3 134.3,360.6 134.5,361.1 134.7,361.5 134.9,360.3 135.1,360.7 135.3,360.3 135.5,360.2 135.7,360.4 135.9,360.3 136.1,359.7 136.3,359.6 136.5,360.2 136.7,360.6 136.9,361.2 137.1,360.3 137.3,360.5 137.5,360.9 137.7,360.9 137.9,360.5 138.1,360.6 138.3,361.5 138.5,360.4 138.7,360.3 138.9,359.8 139.1,360.8 139.3,360.4 139.5,361.5 139.7,360.4 139.9,361.0 140.1,361.0 140.3,361.4 140.5,359.9 140.7,361.3 140.9,360.6 141.1,360.5 141.3,360.4 141.5,360.4 141.7,360.4 141.9,359.4 142.1,360.8 142.3,360.6 142.5,360.1 142.7,360.5 142.9,361.6 143.1,360.7 143.3,360.3 143.5,361.3 143.7,360.1 143.9,360.4 144.1,360.2 144.3,360.4 144.5,360.8 144.7,360.8 144.9,360.1 145.1,360.4 145.3,360.6 145.5,360.4 145.7,360.6 145.9,360.3 146.1,360.3 146.3,360.7 146.5,360.2 146.7,360.9 146.9,360.7 147.1,360.3 147.3,360.5 147.5,360.6 147.7,360.8 147.9,361.0 148.1,360.8 148.3,360.5 148.5,361.7 148.7,361.5 148.9,361.1 149.1,361.5 149.3,361.3 149.5,361.0 149.7,361.2 149.9,362.5 150.1,361.7 150.3,361.8 150.5,361.1 150.7,361.6 150.9,362.4 151.1,361.6 151.3,361.9 151.5,362.0 151.7,361.8 151.9,362.2 152.1,361.6 152.3,361.8 152.5,361.2 152.7,362.9 152.9,361.8 153.1,361.7 153.3,362.3 153.5,361.5 153.7,361.7 153.9,361.4 154.1,361.8 154.3,361.6 154.5,362.1 154.7,361.8 154.9,361.6 155.1,361.8 155.3,361.9 155.5,361.7 155.7,362.4 155.9,362.3 156.1,362.1 156.3,361.4 156.5,362.3 156.7,361.4 156.9,362.1 157.1,362.1 157.3,361.8 157.5,361.7 157.7,361.8 157.9,363.1 158.1,362.0 158.3,362.1 158.5,362.7 158.7,362.4 158.9,362.7 159.1,361.7 159.3,361.7 159.5,363.9 159.7,362.3 159.9,362.2 160.1,362.4 160.3,362.8 160.5,361.8 160.7,362.5 160.9,362.4 161.1,362.7 161.3,362.5 161.5,362.2 161.7,362.0 161.9,361.3 162.1,363.0 162.3,361.8 162.5,362.3 162.7,363.3 162.9,362.4 163.1,362.9 163.3,362.5 163.5,362.9 163.7,362.6 163.9,362.4 164.1,363.3 164.3,362.5 164.5,362.0 164.7,362.5 164.9,363.0 165.1,362.2 165.3,363.1 165.5,363.1 165.7,363.8 165.9,362.5 166.1,363.1 166.3,362.0 166.5,362.6 166.7,362.9 166.9,363.1 167.1,362.8 167.3,362.8 167.5,362.6 167.7,362.7 167.9,363.1 168.1,363.2 168.3,363.3 168.5,363.4 168.7,363.5 168.9,362.1 169.1,362.8 169.3,362.9 169.5,362.7 169.7,363.5 169.9,363.4 170.1,363.0 170.3,363.1 170.5,363.7 170.7,362.9 170.9,362.9 171.1,363.5 171.3,363.3 171.5,363.7 171.7,363.2 171.9,363.4 172.1,362.8 172.3,362.6 172.5,363.0 172.7,361.8 172.9,363.2 173.1,363.5 173.3,363.1 173.5,362.9 173.7,363.5 173.9,363.0 174.1,363.5 174.3,364.0 174.5,363.3 174.7,363.4 174.9,363.2 175.1,363.1 175.3,363.1 175.5,363.0 175.7,363.5 175.9,362.2 176.1,362.8 176.3,363.3 176.5,362.5 176.7,362.9 176.9,362.6 177.1,363.1 177.3,363.3 177.5,363.6 177.7,363.1 177.9,362.5 178.1,363.0 178.3,363.1 178.5,363.5 178.7,361.8 178.9,363.0 179.1,361.9 179.3,363.1 179.5,363.0 179.7,363.0 179.9,363.2 180.1,362.9 180.3,362.4 180.5,362.9 180.7,363.3 180.9,362.6 181.1,362.7 181.3,362.1 181.5,363.2 181.7,362.4 181.9,362.3 182.1,362.4 182.3,362.2 182.5,362.4 182.7,363.1 182.9,362.9 183.1,363.2 183.3,363.2 183.5,362.0 183.7,362.6 183.9,363.1 184.1,363.5 184.3,361.7 184.5,361.6 184.7,362.5 184.9,362.1 185.1,361.7 185.3,362.4 185.5,361.8 185.7,361.0 185.9,362.0 186.1,362.1 186.3,362.3 186.5,362.4 186.7,361.9 186.9,361.7 187.1,361.4 187.3,360.9 187.5,361.4 187.7,362.1 187.9,361.8 188.1,362.4 188.3,361.3 188.5,360.5 188.7,361.6 188.9,361.6 189.1,360.5 189.3,360.2 189.5,361.0 189.7,361.1 189.9,360.2 190.1,360.4 190.3,360.1 190.5,359.8 190.7,359.6 190.9,360.2 191.1,359.8 191.3,359.6 191.5,358.5 191.7,360.5 191.9,359.0 192.1,359.3 192.3,358.6 192.5,359.2 192.7,358.1 192.9,358.7 193.1,358.4 193.3,358.8 193.5,357.7 193.7,357.7 193.9,357.7 194.1,358.6 194.3,356.8 194.5,357.4 194.7,356.8 194.9,357.1 195.1,357.0 195.3,356.6 195.5,356.5 195.7,356.3 195.9,355.8 196.1,355.8 196.3,354.9 196.5,355.4 196.7,355.1 196.9,355.2 197.1,355.6 197.3,355.3 197.5,355.2 197.7,355.4 197.9,353.7 198.1,354.9 198.3,354.6 198.5,354.5 198.7,353.8 198.9,354.6 199.1,354.8 199.3,354.7 199.5,354.0 199.7,354.2 199.9,354.2 200.1,354.5 200.3,354.1 200.5,353.4 200.7,353.2 200.9,353.1 201.1,352.9 201.3,352.3 201.5,352.7 201.7,351.8 201.9,351.5 202.1,351.7 202.3,351.0 202.5,350.8 202.7,349.6 202.9,350.7 203.1,350.0 203.3,349.6 203.5,349.5 203.7,349.0 203.9,348.2 204.1,349.1 204.3,347.6 204.5,347.9 204.7,348.0 204.9,346.5 205.1,346.5 205.3,345.7 205.5,346.3 205.7,345.4 205.9,344.8 206.1,345.8 206.3,345.4 206.5,344.4 206.7,345.2 206.9,344.6 207.1,345.7 207.3,345.2 207.5,344.0 207.7,344.1 207.9,343.7 208.1,344.1 208.3,343.9 208.5,344.1 208.7,343.6 208.9,342.6 209.1,342.7 209.3,343.4 209.5,342.9 209.7,341.8 209.9,341.3 210.1,340.7 210.3,340.1 210.5,338.6 210.7,339.0 210.9,337.4 211.1,336.8 211.3,334.4 211.5,334.6 211.7,334.0 211.9,331.0 212.1,331.5 212.3,329.6 212.5,327.6 212.7,325.7 212.9,325.5 213.1,323.6 213.3,322.3 213.5,320.4 213.7,318.7 213.9,318.1 214.1,315.9 214.3,315.5 214.5,313.2 214.7,312.5 214.9,311.4 215.1,312.0 215.3,310.0 215.5,310.0 215.7,310.6 215.9,310.4 216.1,311.6 216.3,311.7 216.5,311.6 216.7,312.3 216.9,311.8 217.1,313.2 217.3,314.3 217.5,315.4 217.7,315.9 217.9,317.2 218.1,318.3 218.3,320.3 218.5,321.0 218.7,321.7 218.9,322.7 219.1,323.9 219.3,324.4 219.5,325.4 219.7,325.5 219.9,327.4 220.1,328.2 220.3,328.5 220.5,329.2 220.7,329.6 220.9,330.9 221.1,330.4 221.3,330.1 221.5,330.6 221.7,331.8 221.9,332.3 222.1,332.5 222.3,332.9 222.5,332.9 222.7,332.5 222.9,333.3 223.1,333.2 223.3,334.4 223.5,334.4 223.7,335.7 223.9,336.1 224.1,335.9 224.3,337.9 224.5,338.5 224.7,338.2 224.9,339.7 225.1,340.7 225.3,341.0 225.5,342.3 225.7,342.7 225.9,343.9 226.1,344.3 226.3,344.9 226.5,346.0 226.7,346.8 226.9,347.3 227.1,347.7 227.3,348.2 227.5,349.1 227.7,349.6 227.9,350.7 228.1,351.3 228.3,351.7 228.5,352.3 228.7,353.0 228.9,354.2 229.1,354.5 229.3,354.1 229.5,355.1 229.7,355.1 229.9,355.6 230.1,356.0 230.3,356.2 230.5,356.1 230.7,355.9 230.9,357.5 231.1,358.3 231.3,357.6 231.5,358.5 231.7,358.3 231.9,358.9 232.1,358.6 232.3,359.0 232.5,359.3 232.7,358.4 232.9,359.8 233.1,359.8 233.3,358.8 233.5,360.4 233.7,360.2 233.9,360.4 234.1,360.6 234.3,360.4 234.5,360.1 234.7,360.5 234.9,360.6 235.1,362.0 235.3,361.9 235.5,360.8 235.7,360.9 235.9,361.4 236.1,361.5 236.3,361.0 236.5,360.9 236.7,362.4 236.9,362.0 237.1,360.8 237.3,360.7 237.5,361.2 237.7,361.8 237.9,362.0 238.1,361.6 238.3,361.0 238.5,361.9 238.7,362.1 238.9,361.9 239.1,361.7 239.3,362.2 239.5,362.0 239.7,361.5 239.9,362.1 240.1,361.4 240.3,362.6 240.5,362.3 240.7,361.7 240.9,362.3 241.1,362.8 241.3,361.2 241.5,362.2 241.7,363.0 241.9,361.5 242.1,362.2 242.3,361.6 242.5,362.3 242.7,361.1 242.9,361.5 243.1,362.1 243.3,362.4 243.5,362.5 243.7,362.5 243.9,362.9 244.1,362.6 244.3,362.6 244.5,361.8 244.7,362.1 244.9,363.7 245.1,363.3 245.3,362.5 245.5,362.4 245.7,362.5 245.9,361.7 246.1,362.8 246.3,361.6 246.5,361.7 246.7,362.7 246.9,360.5 247.1,361.6 247.3,360.5 247.5,360.9 247.7,361.1 247.9,360.9 248.1,361.0 248.3,360.4 248.5,360.7 248.7,360.0 248.9,360.3 249.1,359.7 249.3,360.6 249.5,359.6 249.7,360.5 249.9,359.9 250.1,359.9 250.3,360.5 250.5,360.0 250.7,359.0 250.9,360.1 251.1,358.5 251.3,360.0 251.5,359.7 251.7,359.3 251.9,360.1 252.1,359.9 252.3,361.2 252.5,360.0 252.7,361.3 252.9,361.1 253.1,360.2 253.3,360.3 253.5,361.4 253.7,360.8 253.9,361.1 254.1,361.0 254.3,360.7 254.5,361.2 254.7,361.0 254.9,360.9 255.1,361.6 255.3,362.7 255.5,362.7 255.7,362.0 255.9,362.2 256.1,362.5 256.3,363.0 256.5,362.5 256.7,362.2 256.9,362.3 257.1,363.1 257.3,363.9 257.5,362.3 257.7,361.7 257.9,363.1 258.1,362.7 258.3,362.8 258.5,363.4 258.7,362.8 258.9,362.2 259.1,361.9 259.3,362.8 259.5,362.3 259.7,363.0 259.9,362.2 260.1,362.7 260.3,362.2 260.5,362.7 260.7,362.7 260.9,363.2 261.1,363.6 261.3,362.8 261.5,362.5 261.7,363.9 261.9,363.1 262.1,363.2 262.3,363.2 262.5,363.6 262.7,363.4 262.9,363.2 263.1,363.3 263.3,362.4 263.5,362.6 263.7,362.8 263.9,362.9 264.1,362.9 264.3,363.0 264.5,362.9 264.7,362.6 264.9,362.0 265.1,363.3 265.3,363.1 265.5,362.4 265.7,363.1 265.9,363.0 266.1,362.9 266.3,361.9 266.5,362.2 266.7,362.5 266.9,363.6 267.1,362.4 267.3,362.6 267.5,362.2 267.7,362.5 267.9,363.0 268.1,361.7 268.3,361.4 268.5,363.1 268.7,362.8 268.9,362.5 269.1,363.2 269.3,363.2 269.5,361.7 269.7,362.7 269.9,363.3 270.1,362.4 270.3,362.6 270.5,363.2 270.7,362.6 270.9,362.1 271.1,362.3 271.3,362.0 271.5,363.0 271.7,361.8 271.9,363.2 272.1,361.8 272.3,362.7 272.5,361.9 272.7,362.5 272.9,363.1 273.1,363.2 273.3,363.3 273.5,362.6 273.7,362.7 273.9,362.7 274.1,362.9 274.3,362.4 274.5,363.1 274.7,362.7 274.9,363.1 275.1,362.8 275.3,362.9 275.5,362.2 275.7,362.3 275.9,361.9 276.1,362.4 276.3,362.4 276.5,362.9 276.7,361.8 276.9,364.1 277.1,362.4 277.3,363.1 277.5,363.0 277.7,361.2 277.9,362.3 278.1,363.1 278.3,361.2 278.5,362.8 278.7,361.9 278.9,362.1 279.1,362.5 279.3,361.4 279.5,362.4 279.7,362.0 279.9,361.9 280.1,362.7 280.3,364.0 280.5,362.5 280.7,362.5 280.9,362.2 281.1,361.9 281.3,362.4 281.5,363.0 281.7,362.3 281.9,362.6 282.1,362.1 282.3,363.4 282.5,361.3 282.7,362.4 282.9,362.4 283.1,362.2 283.3,361.5 283.5,361.5 283.7,362.0 283.9,362.1 284.1,361.4 284.3,361.5 284.5,362.3 284.7,362.5 284.9,361.7 285.1,361.6 285.3,361.6 285.5,363.2 285.7,362.2 285.9,361.9 286.1,362.4 286.3,363.0 286.5,362.4 286.7,361.1 286.9,361.8 287.1,361.6 287.3,361.6 287.5,361.1 287.7,361.5 287.9,361.2 288.1,361.9 288.3,361.7 288.5,360.9 288.7,360.8 288.9,361.4 289.1,361.9 289.3,361.8 289.5,361.5 289.7,359.8 289.9,361.2 290.1,361.1 290.3,361.3 290.5,360.8 290.7,361.2 290.9,361.0 291.1,362.7 291.3,361.7 291.5,361.2 291.7,361.3 291.9,361.2 292.1,361.3 292.3,361.0 292.5,361.2 292.7,361.7 292.9,361.5 293.1,361.3 293.3,361.7 293.5,361.1 293.7,360.5 293.9,360.1 294.1,360.6 294.3,360.9 294.5,361.1 294.7,361.4 294.9,360.5 295.1,360.4 295.3,361.1 295.5,361.3 295.7,360.4 295.9,360.8 296.1,361.3 296.3,360.7 296.5,360.5 296.7,359.4 296.9,361.1 297.1,360.7 297.3,360.4 297.5,360.0 297.7,359.6 297.9,360.1 298.1,360.0 298.3,360.6 298.5,359.4 298.7,360.6 298.9,359.9 299.1,360.4 299.3,359.2 299.5,359.8 299.7,360.2 299.9,359.6 300.1,358.7 300.3,359.2 300.5,359.6 300.7,358.5 300.9,358.4 301.1,359.2 301.3,358.5 301.5,359.2 301.7,358.2 301.9,357.7 302.1,358.2 302.3,359.2 302.5,357.9 302.7,358.2 302.9,358.2 303.1,357.5 303.3,358.4 303.5,357.8 303.7,357.8 303.9,356.6 304.1,356.4 304.3,355.8 304.5,356.9 304.7,356.7 304.9,357.0 305.1,357.2 305.3,356.2 305.5,356.0 305.7,356.1 305.9,356.5 306.1,355.1 306.3,355.6 306.5,354.9 306.7,354.6 306.9,354.9 307.1,353.8 307.3,353.4 307.5,354.0 307.7,353.3 307.9,352.9 308.1,352.6 308.3,352.5 308.5,351.7 308.7,351.9 308.9,351.3 309.1,351.4 309.3,350.8 309.5,350.1 309.7,349.1 309.9,348.7 310.1,347.7 310.3,348.9 310.5,346.7 310.7,346.4 310.9,346.1 311.1,344.0 311.3,343.4 311.5,342.8 311.7,341.6 311.9,340.5 312.1,339.9 312.3,339.7 312.5,338.3 312.7,336.8 312.9,335.5 313.1,333.4 313.3,333.1 313.5,331.5 313.7,329.2 313.9,328.2 314.1,326.2 314.3,324.3 314.5,322.1 314.7,320.3 314.9,318.1 315.1,316.6 315.3,314.4 315.5,312.1 315.7,309.6 315.9,307.2 316.1,306.1 316.3,301.9 316.5,301.3 316.7,298.8 316.9,296.7 317.1,294.7 317.3,293.3 317.5,291.5 317.7,290.4 317.9,290.4 318.1,289.3 318.3,290.6 318.5,291.0 318.7,289.4 318.9,291.4 319.1,293.6 319.3,295.1 319.5,296.8 319.7,298.9 319.9,301.1 320.1,303.3 320.3,306.0 320.5,307.4 320.7,310.2 320.9,311.2 321.1,314.2 321.3,315.8 321.5,319.3 321.7,321.8 321.9,322.9 322.1,323.9 322.3,326.3 322.5,328.1 322.7,329.9 322.9,331.9 323.1,333.3 323.3,332.9 323.5,336.2 323.7,336.5 323.9,337.7 324.1,339.8 324.3,340.0 324.5,340.5 324.7,341.4 324.9,343.0 325.1,344.3 325.3,345.4 325.5,345.3 325.7,345.9 325.9,347.6 326.1,347.2 326.3,348.7 326.5,348.7 326.7,349.2 326.9,349.5 327.1,350.3 327.3,350.4 327.5,350.7 327.7,351.4 327.9,351.5 328.1,352.4 328.3,352.6 328.5,352.8 328.7,353.2 328.9,353.4 329.1,354.7 329.3,354.1 329.5,354.1 329.7,354.5 329.9,355.3 330.1,355.1 330.3,355.3 330.5,355.5 330.7,355.9 330.9,356.2 331.1,356.4 331.3,355.6 331.5,356.0 331.7,355.4 331.9,357.3 332.1,357.6 332.3,357.9 332.5,357.4 332.7,358.1 332.9,357.6 333.1,357.7 333.3,357.1 333.5,357.6 333.7,357.8 333.9,358.7 334.1,359.2 334.3,358.2 334.5,358.7 334.7,358.8 334.9,358.3 335.1,357.9 335.3,358.5 335.5,358.3 335.7,358.9 335.9,359.1 336.1,359.1 336.3,359.2 336.5,359.6 336.7,358.9 336.9,359.9 337.1,358.7 337.3,359.6 337.5,359.9 337.7,359.3 337.9,359.0 338.1,360.1 338.3,359.5 338.5,360.3 338.7,360.4 338.9,360.0 339.1,360.1 339.3,360.6 339.5,360.3 339.7,359.7 339.9,360.3 340.1,360.5 340.3,360.4 340.5,360.4 340.7,360.3 340.9,360.3 341.1,359.9 341.3,359.7 341.5,361.0 341.7,360.2 341.9,360.6 342.1,359.8 342.3,360.6 342.5,360.2 342.7,362.1 342.9,360.1 343.1,360.1 343.3,361.1 343.5,361.2 343.7,359.6 343.9,360.8 344.1,361.1 344.3,360.1 344.5,361.0 344.7,360.5 344.9,360.2 345.1,360.6 345.3,360.5 345.5,360.1 345.7,361.9 345.9,360.5 346.1,360.4 346.3,361.2 346.5,360.7 346.7,361.4 346.9,360.6 347.1,361.0 347.3,360.8 347.5,360.9 347.7,360.7 347.9,360.7 348.1,361.6 348.3,360.4 348.5,360.5 348.7,360.6 348.9,361.0 349.1,361.0 349.3,361.2 349.5,360.1 349.7,360.9 349.9,360.7 350.1,360.6 350.3,360.8 350.5,359.7 350.7,360.8 350.9,360.8 351.1,360.0 351.3,360.6 351.5,361.4 351.7,360.5 351.9,360.9 352.1,360.5 352.3,360.2 352.5,360.1 352.7,360.4 352.9,361.2 353.1,361.0 353.3,360.2 353.5,361.0 353.7,360.4 353.9,360.1 354.1,360.7 354.3,360.0 354.5,359.6 354.7,361.0 354.9,359.5 355.1,360.6 355.3,359.6 355.5,360.3 355.7,360.2 355.9,360.0 356.1,359.1 356.3,360.1 356.5,360.1 356.7,359.7 356.9,360.1 357.1,360.5 357.3,359.7 357.5,360.1 357.7,359.4 357.9,360.1 358.1,360.2 358.3,361.1 358.5,360.2 358.7,360.0 358.9,360.4 359.1,359.2 359.3,360.2 359.5,359.3 359.7,359.2 359.9,360.0 360.1,359.5 360.3,360.0 360.5,358.6 360.7,359.4 360.9,358.9 361.1,359.0 361.3,358.1 361.5,359.5 361.7,359.0 361.9,358.4 362.1,358.1 362.3,358.3 362.5,359.3 362.7,358.5 362.9,358.3 363.1,358.6 363.3,358.3 363.5,358.3 363.7,358.4 363.9,358.1 364.1,358.3 364.3,357.1 364.5,357.6 364.7,357.3 364.9,357.4 365.1,357.1 365.3,356.7 365.5,356.7 365.7,357.1 365.9,356.2 366.1,355.7 366.3,356.4 366.5,356.3 366.7,355.5 366.9,355.4 367.1,354.7 367.3,354.8 367.5,355.1 367.7,354.7 367.9,354.0 368.1,353.5 368.3,352.5 368.5,353.1 368.7,352.8 368.9,352.7 369.1,352.7 369.3,351.5 369.5,351.3 369.7,349.8 369.9,350.4 370.1,349.7 370.3,349.4 370.5,348.5 370.7,347.8 370.9,347.6 371.1,345.9 371.3,345.9 371.5,345.4 371.7,343.8 371.9,342.8 372.1,342.8 372.3,341.9 372.5,341.3 372.7,340.4 372.9,338.9 373.1,338.5 373.3,338.0 373.5,336.3 373.7,335.4 373.9,334.0 374.1,333.9 374.3,333.5 374.5,330.8 374.7,330.9 374.9,329.9 375.1,328.1 375.3,327.2 375.5,325.8 375.7,325.0 375.9,324.4 376.1,323.7 376.3,322.4 376.5,321.9 376.7,320.7 376.9,319.1 377.1,319.6 377.3,318.7 377.5,317.1 377.7,317.6 377.9,316.4 378.1,315.7 378.3,316.1 378.5,313.6 378.7,313.8 378.9,314.7 379.1,314.0 379.3,313.6 379.5,314.8 379.7,314.4 379.9,313.7 380.1,314.2 380.3,315.1 380.5,315.9 380.7,314.4 380.9,315.8 381.1,315.9 381.3,315.7 381.5,316.9 381.7,316.6 381.9,317.6 382.1,319.0 382.3,318.9 382.5,319.4 382.7,319.7 382.9,319.9 383.1,320.5 383.3,319.7 383.5,320.3 383.7,321.1 383.9,320.4 384.1,320.5 384.3,321.3 384.5,321.3 384.7,320.1 384.9,319.7 385.1,320.1 385.3,319.5 385.5,318.6 385.7,318.7 385.9,318.0 386.1,317.2 386.3,317.8 386.5,316.4 386.7,315.3 386.9,314.7 387.1,315.0 387.3,313.4 387.5,312.0 387.7,312.0 387.9,311.6 388.1,311.1 388.3,311.5 388.5,311.7 388.7,311.9 388.9,312.3 389.1,313.7 389.3,313.4 389.5,315.7 389.7,316.5 389.9,318.0 390.1,318.2 390.3,321.7 390.5,321.6 390.7,323.6 390.9,325.9 391.1,326.8 391.3,328.5 391.5,329.1 391.7,331.4 391.9,333.2 392.1,334.7 392.3,335.5 392.5,337.0 392.7,338.3 392.9,338.8 393.1,339.8 393.3,342.1 393.5,341.7 393.7,343.6 393.9,343.8 394.1,345.2 394.3,344.9 394.5,346.2 394.7,346.7 394.9,347.0 395.1,347.8 395.3,347.8 395.5,348.6 395.7,348.9 395.9,349.9 396.1,349.8 396.3,349.5 396.5,350.4 396.7,350.8 396.9,350.7 397.1,352.0 397.3,351.8 397.5,352.3 397.7,351.7 397.9,352.1 398.1,352.9 398.3,351.9 398.5,352.9 398.7,352.9 398.9,352.8 399.1,353.2 399.3,352.7 399.5,353.4 399.7,352.8 399.9,352.9 400.1,354.3 400.3,353.3 400.5,352.7 400.7,354.3 400.9,353.6 401.1,352.3 401.3,354.1 401.5,354.6 401.7,354.4 401.9,355.2 402.1,354.4 402.3,354.8 402.5,354.1 402.7,354.8 402.9,355.6 403.1,355.2 403.3,355.1 403.5,354.2 403.7,355.1 403.9,354.7 404.1,355.9 404.3,355.3 404.5,355.9 404.7,355.4 404.9,357.0 405.1,355.6 405.3,356.4 405.5,357.8 405.7,356.7 405.9,356.4 406.1,357.2 406.3,357.6 406.5,357.7 406.7,356.4 406.9,357.6 407.1,356.6 407.3,358.7 407.5,358.0 407.7,357.9 407.9,358.6 408.1,358.6 408.3,357.9 408.5,359.4 408.7,358.6 408.9,358.0 409.1,359.7 409.3,359.8 409.5,359.8 409.7,359.6 409.9,359.0 410.1,359.9 410.3,360.5 410.5,360.1 410.7,360.5 410.9,359.4 411.1,360.4 411.3,360.4 411.5,359.3 411.7,359.3 411.9,359.8 412.1,360.3 412.3,360.5 412.5,360.2 412.7,360.4 412.9,360.4 413.1,360.5 413.3,360.8 413.5,360.8 413.7,360.6 413.9,360.8 414.1,360.4 414.3,361.1 414.5,360.5 414.7,361.6 414.9,360.8 415.1,361.0 415.3,360.5 415.5,360.7 415.7,361.0 415.9,360.9 416.1,360.6 416.3,360.4 416.5,361.0 416.7,361.1 416.9,361.3 417.1,361.7 417.3,360.9 417.5,360.1 417.7,361.0 417.9,360.2 418.1,360.5 418.3,361.7 418.5,361.4 418.7,360.9 418.9,360.9 419.1,361.2 419.3,360.3 419.5,361.5 419.7,361.1 419.9,362.2 420.1,360.7 420.3,361.8 420.5,361.0 420.7,361.8 420.9,360.8 421.1,361.7 421.3,361.1 421.5,360.9 421.7,361.3 421.9,361.6 422.1,361.6 422.3,362.2 422.5,361.8 422.7,360.1 422.9,361.2 423.1,360.4 423.3,361.2 423.5,361.7 423.7,360.8 423.9,360.9 424.1,361.5 424.3,361.3 424.5,362.3 424.7,361.6 424.9,361.7 425.1,362.4 425.3,361.2 425.5,361.5 425.7,361.0 425.9,361.6 426.1,362.0 426.3,362.2 426.5,361.5 426.7,361.2 426.9,361.1 427.1,360.8 427.3,361.6 427.5,362.2 427.7,360.4 427.9,360.5 428.1,362.2 428.3,360.7 428.5,361.7 428.7,360.9 428.9,361.9 429.1,361.9 429.3,361.6 429.5,362.0 429.7,361.6 429.9,361.8 430.1,362.5 430.3,362.1 430.5,361.2 430.7,361.2 430.9,361.4 431.1,361.4 431.3,361.6 431.5,361.2 431.7,361.9 431.9,361.6 432.1,361.7 432.3,361.5 432.5,361.8 432.7,360.9 432.9,362.3 433.1,361.7 433.3,361.8 433.5,361.8 433.7,362.1 433.9,361.9 434.1,361.6 434.3,361.4 434.5,360.7 434.7,361.6 434.9,361.3 435.1,361.3 435.3,362.7 435.5,360.5 435.7,361.5 435.9,362.1 436.1,361.9 436.3,362.1 436.5,360.8 436.7,360.9 436.9,361.7 437.1,361.3 437.3,362.3 437.5,361.5 437.7,361.5 437.9,361.6 438.1,361.2 438.3,361.4 438.5,361.0 438.7,361.3 438.9,361.1 439.1,361.4 439.3,360.6 439.5,360.5 439.7,361.5 439.9,361.3 440.1,360.7 440.3,361.1 440.5,360.7 440.7,362.2 440.9,360.4 441.1,362.0 441.3,360.7 441.5,361.3 441.7,360.9 441.9,360.8 442.1,361.5 442.3,361.4 442.5,360.8 442.7,360.5 442.9,362.0 443.1,361.6 443.3,360.9 443.5,360.7 443.7,360.9 443.9,360.8 444.1,361.3 444.3,360.2 444.5,360.7 444.7,360.2 444.9,361.3 445.1,361.5 445.3,360.5 445.5,360.8 445.7,361.2 445.9,360.3 446.1,359.9 446.3,360.8 446.5,360.5 446.7,360.1 446.9,360.9 447.1,360.3 447.3,359.2 447.5,360.2 447.7,359.9 447.9,360.9 448.1,359.9 448.3,359.7 448.5,360.0 448.7,359.8 448.9,358.9 449.1,359.6 449.3,359.3 449.5,360.1 449.7,360.5 449.9,358.7 450.1,358.7 450.3,358.6 450.5,358.7 450.7,358.5 450.9,358.8 451.1,359.2 451.3,358.0 451.5,357.7 451.7,357.5 451.9,358.8 452.1,358.8 452.3,357.3 452.5,357.1 452.7,357.9 452.9,358.2 453.1,358.0 453.3,357.5 453.5,357.6 453.7,357.2 453.9,356.6 454.1,357.7 454.3,356.6 454.5,355.8 454.7,356.0 454.9,355.2 455.1,355.8 455.3,356.2 455.5,354.8 455.7,355.7 455.9,356.0 456.1,354.9 456.3,353.8 456.5,353.7 456.7,353.7 456.9,352.9 457.1,352.7 457.3,352.8 457.5,352.6 457.7,352.6 457.9,351.4 458.1,352.5 458.3,351.7 458.5,351.3 458.7,350.1 458.9,350.8 459.1,349.3 459.3,350.0 459.5,349.1 459.7,347.6 459.9,347.3 460.1,347.9 460.3,346.9 460.5,345.8 460.7,345.4 460.9,344.8 461.1,343.6 461.3,343.3 461.5,342.4 461.7,341.8 461.9,341.6 462.1,340.1 462.3,340.3 462.5,339.2 462.7,338.8 462.9,338.2 463.1,337.6 463.3,336.6 463.5,335.9 463.7,334.8 463.9,334.5 464.1,333.1 464.3,332.8 464.5,332.7 464.7,331.8 464.9,331.6 465.1,330.4 465.3,331.3 465.5,330.0 465.7,330.3 465.9,330.0 466.1,330.4 466.3,329.7 466.5,329.5 466.7,329.2 466.9,330.2 467.1,330.1 467.3,331.3 467.5,332.2 467.7,330.9 467.9,331.9 468.1,333.3 468.3,334.4 468.5,334.5 468.7,335.2 468.9,336.0 469.1,336.8 469.3,338.1 469.5,338.3 469.7,338.1 469.9,339.2 470.1,340.3 470.3,340.5 470.5,341.5 470.7,342.1 470.9,342.7 471.1,344.0 471.3,344.1 471.5,344.4 471.7,345.2 471.9,346.2 472.1,347.8 472.3,347.4 472.5,348.6 472.7,348.6 472.9,347.8 473.1,349.6 473.3,349.4 473.5,349.6 473.7,350.2 473.9,352.0 474.1,350.7 474.3,351.6 474.5,352.8 474.7,352.9 474.9,352.0 475.1,353.2 475.3,353.3 475.5,353.7 475.7,354.5 475.9,354.0 476.1,354.4 476.3,355.5 476.5,354.1 476.7,355.0 476.9,355.7 477.1,355.0 477.3,355.5 477.5,355.3 477.7,356.2 477.9,355.9 478.1,356.8 478.3,357.0 478.5,356.7 478.7,356.6 478.9,357.0 479.1,357.0 479.3,356.4 479.5,357.7 479.7,357.3 479.9,357.7 480.1,356.7 480.3,357.9 480.5,358.6 480.7,357.9 480.9,356.9 481.1,357.7 481.3,357.8 481.5,358.0 481.7,357.8 481.9,358.2 482.1,357.8 482.3,358.3 482.5,357.9 482.7,358.4 482.9,358.9 483.1,358.3 483.3,358.9 483.5,358.3 483.7,358.6 483.9,358.8 484.1,359.7 484.3,358.8 484.5,359.9 484.7,358.6 484.9,359.4 485.1,360.1 485.3,360.1 485.5,359.3 485.7,359.4 485.9,360.5 486.1,359.6 486.3,360.6 486.5,360.2 486.7,360.5 486.9,361.8 487.1,361.5 487.3,361.3 487.5,360.2 487.7,361.2 487.9,361.1 488.1,361.2 488.3,362.0 488.5,360.5 488.7,361.6 488.9,361.6 489.1,361.2 489.3,362.5 489.5,361.1 489.7,361.8 489.9,361.9 490.1,360.8 490.3,361.2 490.5,361.5 490.7,362.4 490.9,362.6 491.1,362.4 491.3,362.3 491.5,361.1 491.7,362.4 491.9,362.0 492.1,362.9 492.3,363.0 492.5,363.5 492.7,362.8 492.9,362.9 493.1,362.0 493.3,362.5 493.5,361.9 493.7,363.0 493.9,362.0 494.1,362.5 494.3,362.2 494.5,362.4 494.7,362.9 494.9,362.4 495.1,362.8 495.3,362.2 495.5,363.5 495.7,362.5 495.9,363.3 496.1,363.9 496.3,361.6 496.5,362.4 496.7,362.8 496.9,363.5 497.1,362.7 497.3,363.1 497.5,362.6 497.7,363.3 497.9,362.4 498.1,363.4 498.3,361.5 498.5,362.1 498.7,364.0 498.9,363.1 499.1,362.6 499.3,364.2 499.5,363.6 499.7,363.7 499.9,362.9 500.1,363.4 500.3,363.4 500.5,362.3 500.7,363.5 500.9,363.1 501.1,363.8 501.3,363.9 501.5,362.9 501.7,362.9 501.9,363.3 502.1,363.6 502.3,363.0 502.5,363.2 502.7,363.6 502.9,363.5 503.1,363.9 503.3,363.4 503.5,362.8 503.7,362.4 503.9,363.7 504.1,363.1 504.3,363.1 504.5,363.2 504.7,362.5 504.9,363.1 505.1,362.0 505.3,363.1 505.5,362.9 505.7,364.3 505.9,363.6 506.1,363.2 506.3,363.4 506.5,363.7 506.7,363.0 506.9,363.2 507.1,363.2 507.3,364.6 507.5,363.4 507.7,362.3 507.9,363.7 508.1,364.7 508.3,362.8 508.5,365.1 508.7,363.3 508.9,363.8 509.1,363.0 509.3,363.2 509.5,362.7 509.7,362.8 509.9,362.2 510.1,363.9 510.3,362.7 510.5,363.5 510.7,363.4 510.9,362.9 511.1,363.3 511.3,363.2 511.5,363.0 511.7,363.2 511.9,363.2 512.1,362.6 512.3,362.5 512.5,362.7 512.7,363.2 512.9,363.8 513.1,363.8 513.3,363.2 513.5,363.5 513.7,363.1 513.9,363.5 514.1,363.0 514.3,363.1 514.5,362.7 514.7,362.8 514.9,363.8 515.1,362.1 515.3,362.7 515.5,362.4 515.7,363.1 515.9,363.5 516.1,362.4 516.3,361.0 516.5,362.7 516.7,362.7 516.9,361.4 517.1,362.1 517.3,362.1 517.5,360.9 517.7,362.3 517.9,362.1 518.1,361.9 518.3,361.2 518.5,361.2 518.7,361.2 518.9,361.6 519.1,360.7 519.3,361.9 519.5,361.2 519.7,359.7 519.9,361.5 520.1,360.6 520.3,360.0 520.5,360.2 520.7,359.0 520.9,359.8 521.1,358.2 521.3,358.7 521.5,359.7 521.7,359.4 521.9,358.3 522.1,357.7 522.3,358.4 522.5,357.5 522.7,357.3 522.9,357.2 523.1,355.9 523.3,356.5 523.5,354.6 523.7,356.1 523.9,354.1 524.1,354.2 524.3,353.8 524.5,354.1 524.7,353.7 524.9,353.1 525.1,352.8 525.3,352.4 525.5,351.8 525.7,350.6 525.9,350.1 526.1,349.9 526.3,350.9 526.5,350.7 526.7,350.7 526.9,350.8 527.1,350.6 527.3,350.2 527.5,350.1 527.7,350.0 527.9,351.8 528.1,351.8 528.3,350.9 528.5,351.6 528.7,352.3 528.9,353.1 529.1,352.2 529.3,352.8 529.5,353.6 529.7,352.3 529.9,353.0 530.1,353.6 530.3,353.4 530.5,355.1 530.7,354.6 530.9,354.4 531.1,353.9 531.3,355.0 531.5,355.0 531.7,354.5 531.9,354.6 532.1,354.1 532.3,354.9 532.5,355.4 532.7,355.5 532.9,355.3 533.1,355.4 533.3,354.7 533.5,354.8 533.7,355.6 533.9,355.2 534.1,354.5 534.3,355.2 534.5,355.3 534.7,355.2 534.9,354.8 535.1,354.4 535.3,354.9 535.5,355.5 535.7,354.6 535.9,354.1 536.1,354.6 536.3,353.7 536.5,354.4 536.7,354.1 536.9,354.7 537.1,354.2 537.3,354.6 537.5,355.2 537.7,353.9 537.9,353.5 538.1,354.1 538.3,353.8 538.5,353.9" fill="none" stroke="#e00a0a" stroke-width="1.5" stroke-linejoin="round"/>
<g stroke="#111" stroke-width="1.75" fill="none">
<rect x="36.3" y="11.6" width="502.25" height="369.6"/>
<line x1="36.5" y1="381.2" x2="36.5" y2="388.8"/>
<line x1="86.7" y1="381.2" x2="86.7" y2="385.2"/>
<line x1="136.9" y1="381.2" x2="136.9" y2="388.8"/>
<line x1="187.1" y1="381.2" x2="187.1" y2="385.2"/>
<line x1="237.3" y1="381.2" x2="237.3" y2="388.8"/>
<line x1="287.5" y1="381.2" x2="287.5" y2="385.2"/>
<line x1="337.7" y1="381.2" x2="337.7" y2="388.8"/>
<line x1="387.9" y1="381.2" x2="387.9" y2="385.2"/>
<line x1="438.1" y1="381.2" x2="438.1" y2="388.8"/>
<line x1="488.3" y1="381.2" x2="488.3" y2="385.2"/>
<line x1="538.5" y1="381.2" x2="538.5" y2="388.8"/>
<line x1="28.6" y1="379.3" x2="36.3" y2="379.3"/>
<line x1="32.2" y1="342.6" x2="36.3" y2="342.6"/>
<line x1="28.6" y1="305.8" x2="36.3" y2="305.8"/>
<line x1="32.2" y1="269.1" x2="36.3" y2="269.1"/>
<line x1="28.6" y1="232.4" x2="36.3" y2="232.4"/>
<line x1="32.2" y1="195.6" x2="36.3" y2="195.6"/>
<line x1="28.6" y1="158.9" x2="36.3" y2="158.9"/>
<line x1="32.2" y1="122.2" x2="36.3" y2="122.2"/>
<line x1="28.6" y1="85.5" x2="36.3" y2="85.5"/>
<line x1="32.2" y1="48.7" x2="36.3" y2="48.7"/>
<line x1="28.6" y1="12.0" x2="36.3" y2="12.0"/>
</g>
<g font-size="18" fill="#000">
<text transform="translate(36.7,407.7) scale(1,1.1)" text-anchor="middle">20</text>
<text transform="translate(137.1,407.7) scale(1,1.1)" text-anchor="middle">30</text>
<text transform="translate(237.5,407.7) scale(1,1.1)" text-anchor="middle">40</text>
<text transform="translate(337.9,407.7) scale(1,1.1)" text-anchor="middle">50</text>
<text transform="translate(438.3,407.7) scale(1,1.1)" text-anchor="middle">60</text>
<text transform="translate(538.7,407.7) scale(1,1.1)" text-anchor="middle">70</text>
</g>
<text x="275.9" y="437.9" text-anchor="middle" font-size="23.1">2theta (degrees)</text>
<text transform="translate(18.8,213.3) rotate(-90)" text-anchor="middle" font-size="23.3">Intensity (a.u.)</text>
<g>
<text x="89.7" y="36.4" text-anchor="middle" font-size="13" fill="#000" stroke="#000" stroke-width="0.3">A</text>
<text x="111.3" y="303.3" text-anchor="middle" font-size="13" fill="#000" stroke="#000" stroke-width="0.3">R</text>
<text x="198.2" y="314.9" text-anchor="middle" font-size="13" fill="#000" stroke="#000" stroke-width="0.3">R</text>
<text x="206.7" y="307.3" text-anchor="middle" font-size="13" fill="#000" stroke="#000" stroke-width="0.3">A</text>
<text x="216.0" y="271.2" text-anchor="middle" font-size="13" fill="#000" stroke="#000" stroke-width="0.3">A</text>
<text x="229.2" y="301.8" text-anchor="middle" font-size="13" fill="#000" stroke="#000" stroke-width="0.3">A</text>
<text x="251.5" y="321.6" text-anchor="middle" font-size="13" fill="#000" stroke="#000" stroke-width="0.3">R</text>
<text x="318.4" y="252.7" text-anchor="middle" font-size="13" fill="#000" stroke="#000" stroke-width="0.3">A</text>
<text x="377.0" y="283.5" text-anchor="middle" font-size="13" fill="#000" stroke="#000" stroke-width="0.3">A</text>
<text x="389.5" y="277.7" text-anchor="middle" font-size="13" fill="#000" stroke="#000" stroke-width="0.3">A</text>
<text x="405.0" y="322.5" text-anchor="middle" font-size="13" fill="#000" stroke="#000" stroke-width="0.3">R</text>
<text x="466.1" y="296.4" text-anchor="middle" font-size="13" fill="#000" stroke="#000" stroke-width="0.3">A</text>
<text x="527.7" y="320.3" text-anchor="middle" font-size="13" fill="#000" stroke="#000" stroke-width="0.3">A</text>
<circle cx="210.9" cy="287.5" r="1.5" fill="#6a6a6a"/><path d="M210.90,285.20L210.90,289.80M212.89,286.35L208.91,288.65M212.89,288.65L208.91,286.35" stroke="#6a6a6a" stroke-width="1.3" stroke-linecap="round" fill="none"/>
<circle cx="277.9" cy="325.2" r="1.5" fill="#6a6a6a"/><path d="M277.90,322.90L277.90,327.50M279.89,324.05L275.91,326.35M279.89,326.35L275.91,324.05" stroke="#6a6a6a" stroke-width="1.3" stroke-linecap="round" fill="none"/>
<circle cx="480.8" cy="321.7" r="1.5" fill="#6a6a6a"/><path d="M480.80,319.40L480.80,324.00M482.79,320.55L478.81,322.85M482.79,322.85L478.81,320.55" stroke="#6a6a6a" stroke-width="1.3" stroke-linecap="round" fill="none"/>
</g>
<rect x="272.3" y="14.9" width="89.1" height="59.1" fill="#fff" stroke="#000" stroke-width="1.3"/>
<g class="sans" font-size="13" fill="#111" stroke="#111" stroke-width="0.2">
<text class="sans" x="277.7" y="30.8" textLength="70.9" lengthAdjust="spacingAndGlyphs">A= anatase</text>
<text class="sans" x="278.2" y="48.3" textLength="51.4" lengthAdjust="spacingAndGlyphs">R= rutile</text>
<text class="sans" x="277.9" y="66.1" textLength="33.4" lengthAdjust="spacingAndGlyphs">*= Ag</text>
</g>
<rect x="361.4" y="15" width="177.1" height="124.3" fill="#fff" stroke="#000" stroke-width="1.3"/>
<g>
<line x1="371.7" y1="34.4" x2="412.8" y2="34.4" stroke="#707070" stroke-width="1.3"/>
<line x1="371.7" y1="63.2" x2="412.8" y2="63.2" stroke="#cc3030" stroke-width="1.3"/>
<line x1="371.7" y1="91.8" x2="412.8" y2="91.8" stroke="#5a52aa" stroke-width="1.7"/>
<line x1="371.7" y1="120.5" x2="412.8" y2="120.5" stroke="#3cd03c" stroke-width="1.4"/>
</g>
<g font-size="17.4" fill="#000" stroke="#000" stroke-width="0.15" transform="translate(418.2,0) scale(1.04,1) translate(-418.2,0)">
<text x="418.2" y="40.3">TiO<tspan font-size="10.5" dy="7">2</tspan></text>
<text x="418.2" y="69.1">TiO<tspan font-size="10.5" dy="7">2</tspan><tspan dy="-7">-Ag(0.5%)</tspan></text>
<text x="418.2" y="97.4">TiO<tspan font-size="10.5" dy="7">2</tspan><tspan dy="-7">-Ag(1%)</tspan></text>
<text x="418.2" y="125.9">TiO<tspan font-size="10.5" dy="7">2</tspan><tspan dy="-7">-Ag(3%)</tspan></text>
</g>
</svg>
</body></html>
